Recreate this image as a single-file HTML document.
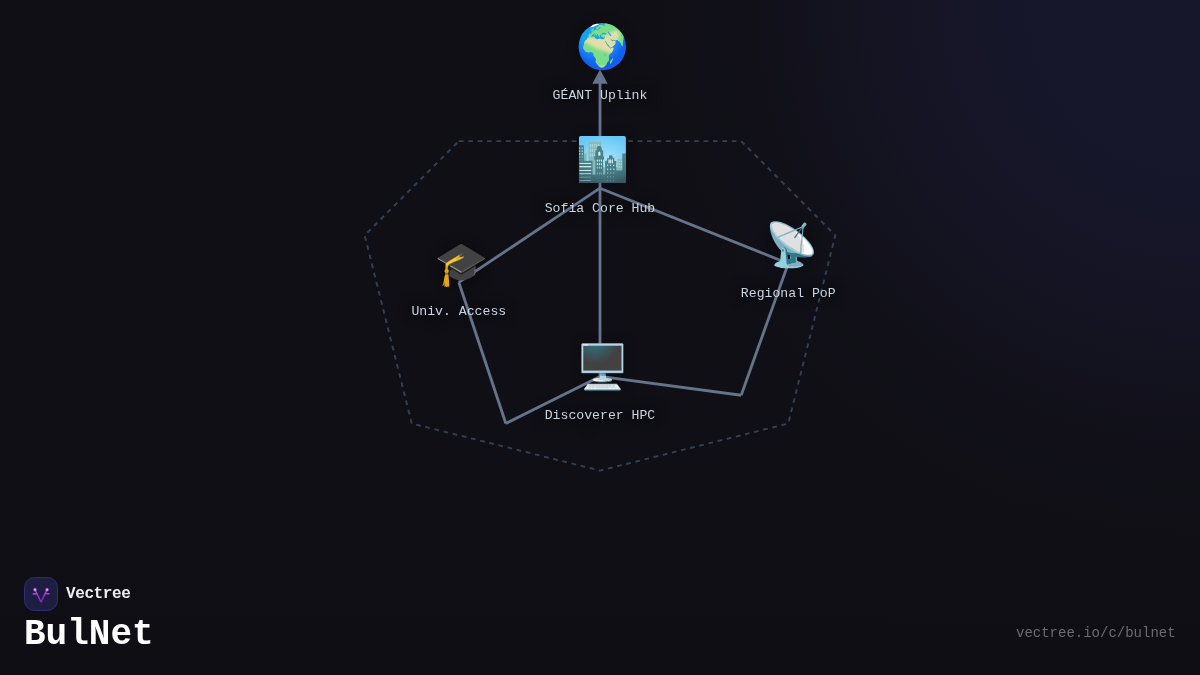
<!DOCTYPE html>
<html lang="en">
<head>
<meta charset="utf-8">
<title>BulNet</title>
<style>
  html, body { margin: 0; padding: 0; }
  body {
    width: 1200px; height: 675px; overflow: hidden;
    background: #100f15;
    font-family: "Liberation Mono", monospace;
  }
  #stage {
    position: relative; width: 1200px; height: 675px; overflow: hidden;
    background:
      radial-gradient(circle 720px at 100% 0%, rgba(23,23,44,0.999) 0.0%, rgba(23,23,44,0.997) 5.6%, rgba(23,23,44,0.992) 11.1%, rgba(23,23,44,0.979) 16.7%, rgba(23,23,44,0.954) 22.2%, rgba(23,23,44,0.908) 27.8%, rgba(23,23,44,0.835) 33.3%, rgba(23,23,44,0.732) 38.9%, rgba(23,23,44,0.605) 44.4%, rgba(23,23,44,0.465) 50.0%, rgba(23,23,44,0.329) 55.6%, rgba(23,23,44,0.213) 61.1%, rgba(23,23,44,0.125) 66.7%, rgba(23,23,44,0.066) 72.2%, rgba(23,23,44,0.032) 77.8%, rgba(23,23,44,0.013) 83.3%, rgba(23,23,44,0.005) 88.9%, rgba(23,23,44,0.002) 94.4%, rgba(23,23,44,0.000) 100.0%),
      linear-gradient(180deg, #100f15 0%, #100f15 80%, #0f0e14 94%, #0f0e14 100%);
  }
  #net { position: absolute; left: 0; top: 0; width: 1200px; height: 675px; will-change: transform; }
  #brand { position: absolute; left: 24px; top: 577px; height: 34px; display: flex; align-items: center; will-change: transform; }
  #logo svg { display:block; margin:-1px; }
  #logo {
    width: 34px; height: 34px; border-radius: 10.5px; background: #1e1e42;
    border: 1px solid #312e78; box-sizing: border-box; overflow: hidden;
  }
  #bname {
    margin-left: 8px; font-family: "Liberation Mono", monospace; font-weight: bold;
    font-size: 16px; color: #ececf0; letter-spacing: -0.4px;
  }
  #title {
    position: absolute; left: 24px; top: 613px; will-change: transform;
    font-family: "Liberation Mono", monospace; font-weight: bold; font-size: 36px; line-height: 44px;
    color: #ffffff;
  }
  #url {
    position: absolute; right: 24px; top: 624px; will-change: transform;
    font-family: "Liberation Mono", monospace; font-size: 14px; line-height: 18px; color: #6b6b73;
  }
</style>
</head>
<body>
<div id="stage">
  <svg id="net" viewBox="0 0 1200 675">
    <defs>
      <filter id="halo" x="-30%" y="-30%" width="160%" height="160%" color-interpolation-filters="sRGB"><feGaussianBlur stdDeviation="5"/></filter>
    </defs>
    <g id="diagram" transform="translate(600 -0.05) scale(1.0013) translate(-600 0)">
    <!-- soft dark halo beneath everything -->
    <g filter="url(#halo)" fill="#0b0b10" stroke="#0b0b10" stroke-width="8" opacity="0.68"
       font-family="Liberation Mono, monospace" font-size="13.16" text-anchor="middle">
      <text x="600" y="99">GÉANT Uplink</text>
      <text x="600" y="212">Sofia Core Hub</text>
      <text x="459" y="315">Univ. Access</text>
      <text x="788" y="297">Regional PoP</text>
      <text x="600" y="419">Discoverer HPC</text>
      <circle cx="602.5" cy="46.5" r="22"/>
      <rect x="581" y="138" width="43" height="43"/>
      <circle cx="461" cy="265" r="20"/>
      <circle cx="791" cy="245" r="20"/>
      <rect x="583" y="345" width="38" height="42"/>
    </g>
    <polygon points="459,141 741,141 835,235 788,423 600,470 412,423 365,235"
             fill="none" stroke="#334155" stroke-width="1.88" stroke-dasharray="4.7 4.7"/>
    <g fill="none" stroke="#64748b" stroke-width="2.82" stroke-linecap="butt">
      <path d="M600,188 L600,83"/>
      <path d="M600,188 L459,282"/>
      <path d="M459,282 L506,423"/>
      <path d="M506,423 L600,376"/>
      <path d="M600,188 L788,263.2"/>
      <path d="M788,263.2 L741,394.8"/>
      <path d="M741,394.8 L600,376"/>
      <path d="M600,188 L600,376"/>
    </g>
    <polygon points="600,69.5 607.7,83.6 592.3,83.6" fill="#64748b"/>
    <!-- ICONS -->
    <g id="icons">
<svg x="575.8" y="21.6" width="53.3" height="50.17" viewBox="0 0 136 128">
<defs><radialGradient id="gOcean" gradientUnits="userSpaceOnUse" cx="57.6" cy="31.4" r="80" gradientTransform="translate(0 31.4) scale(1 1.05) translate(0 -31.4)">
<stop offset=".5" stop-color="#17a1f3"/><stop offset=".55" stop-color="#1997f5"/><stop offset=".6" stop-color="#1a8af8"/><stop offset=".65" stop-color="#1b83f9"/><stop offset=".7" stop-color="#1a7df9"/><stop offset=".75" stop-color="#1876f7"/><stop offset=".8" stop-color="#166ff4"/><stop offset=".85" stop-color="#1468f1"/><stop offset=".9" stop-color="#1264ef"/><stop offset=".96" stop-color="#1160ee"/>
</radialGradient>
<clipPath id="cLand"><path clip-rule="evenodd" d="M94.5 93.8l-1 .1-1.9 2.6-3 2.4-1 1.3-.4 6.3 1 1.3 1.4-.7 2-3.6 .5-1.9 2.7-5.2 .1-2.2zM45.8 17.4l-.9-.5-.9 .2-.8 1-.2 1.3-3.4 1.5-1.1 1.3 .1 .8 .6 .6 1.4 .3 3.9-.3 1.3-2zM77 5l-1.5 0-2.4 2.1 0 .8 1.5 .7 .5 .8-2.9 1.4-1.3 0-3.7-2.6-1.3-.4-2.4 .2-3.5 1.6-4.9 3.9-3.2 1.7-1 1.7 .2 1.2 .8 .5 1.7-.1 1.8 1.6 1.1-.2 2.1-2 .8-2.7 1.8-1.8 .4 .8-.6 1 .1 .8 3.3-.1 .2 .7-.4 .4-3 .6-5.4 4.3-1 0-2.3-1.7-1.1 0-1.8 1.4-2 .8-2.7 2.5-2.8 .2-1.7 1-.9 1.3 1 1.7-.5 1.1-1.1 .6-3.4-.6-1.1 1-2.3 4.9 .3 1.4 1.4 2-2.4 .9-1.4 1.1-2.2 4.6-3.6 2.9-1.2 2.2-1.9 2.2-.3 4.2-2 6.5 0 3.8 .4 2 6.9 7.7 1.1 .4 2.2-.6 2.6 1.5 1.4 0 4.6-1.9 2.8 2.2 2.4 .3 1.6 1 .1 4.7 1.2 3.2 3.7 4 1.7 4.7-.1 1.3-1.2 2 0 2.5 .7 1.3 6.7 8.2 3.6 3.2 2.6 1.3 5.3 .1 1.8-.4 2.6-2 1.5-2 3.5-3.2 1.5-5.2 4.5-4.7 .3-4.6-.4-1.4 0-4.4 .6-3 2.1-3.3 3.7-3.6 3-3.8 1-1.8 1.1-3.6 0-3.4-.5-.6-1.4 .1-5.4 2.4-1.5-.1-1.7-2.8-3.3-2.4-1.3-2.2-1.9-1.8-1-3.4-2-2.2-2.1-4.6 .2-.8 .5 0 1.5 1.7 1.4 2.3 1.5 1.4 2.3 4 3.6 3.4 1.3 3.1 1.4 1.8 1.4 0 5-2.4 3.5-3.5 1.7-1 1.3-1.8 1-4.2-.5-2-3.5-2.6-1 .1-2.2 2.1-1.2-.4-1.8-1.4-1.3-2.3-1.5-1.1-.4-.9 .6-.6 .9 .2 3.6 2.9 1.1 0 2-1.1 1 .1 1.2 1.2 1.2 .6 2.3 0 2.7-1 1.6 .2 4.4 4.6 2.3 1.2 4.6 9.4 .6 .6 1.1 0 .8-1.6-.1-7.2 1.2-6.6 .9-8.9-3.4-6.5-3.8-5.6-8.2-8.3-8.6-6-7.9-3.9-6.3-2zM76.1 83.8l.4 .3-.3 .9-.4-1-1.3 0 1.4 1.1 .3-.1-.4 1-1.8-1.2-.4 1.2 .5 .5-.3 .1-.6-.6 .6-1.6 1-.9zM36.6 39.6l.5-.6 1 .2-.5 .7zM90.9 34.6l.2 1.4-1 .8zM85.4 34.1l2.6 2.4-1.1-.4zM86.5 31.9l2.3 2.2 .3 1.1-1.9-1zM83.6 30.5l1.4 1 0 1.5zM38.6 38.4l1.8-2.5 3.7-3.5 2-.5 1.9-1.3 .9 .9-1.8 1.6-.2 2 .5 .8 .7 0 .7-.7 .1-1.7 .6-.7 3.7 3.3 1.3 .5 .5-.6 0-1.4-2.4-3.4-.1-.8 .5-.3 2.2 1.4 1.2 1.3 .7 2.2 2.4 4 1 0 .9-.9-.3-3.3 .7-.7 2.2-.1 .4 .4-.2 2 1.6 1.7 1.3 .8 2.7-.3 .6 .6 .2 1.4 .8 .3 .6-.5-.4-2 1.6-.6 .6 .6 .2 1.6-.5 3.1-3.1 2-3.3-.1-4-1-4.9-.5-1.8 1.7-1.3 .2-4.1-2.4-2-.6-.6-.8 .2-2.2-1.6-1.3-5.5 0-1.7 .8-.9 0zM78.1 31.2l-.1 .7-1.9 .9-2.7 0-1.6-.8-1.2 0-4.4 1.5-1-.3 .7-2.4 2.3-2 3 .2 1.7-.8 1.1 0zM83.6 25.4l1.2 1-1.9-.4-.7 .5-.4 1.4 .4 1.9-.8-1.2-.2-1 1.6-2z"/></clipPath>
<filter id="fSand" x="-20%" y="-20%" width="140%" height="140%" color-interpolation-filters="sRGB"><feGaussianBlur stdDeviation="4.7"/></filter></defs>
<ellipse cx="67.5" cy="63.9" rx="60.4" ry="60" fill="url(#gOcean)"/>
<path fill="#7add8a" fill-rule="evenodd" d="M94.5 93.8l-1 .1-1.9 2.6-3 2.4-1 1.3-.4 6.3 1 1.3 1.4-.7 2-3.6 .5-1.9 2.7-5.2 .1-2.2zM45.8 17.4l-.9-.5-.9 .2-.8 1-.2 1.3-3.4 1.5-1.1 1.3 .1 .8 .6 .6 1.4 .3 3.9-.3 1.3-2zM77 5l-1.5 0-2.4 2.1 0 .8 1.5 .7 .5 .8-2.9 1.4-1.3 0-3.7-2.6-1.3-.4-2.4 .2-3.5 1.6-4.9 3.9-3.2 1.7-1 1.7 .2 1.2 .8 .5 1.7-.1 1.8 1.6 1.1-.2 2.1-2 .8-2.7 1.8-1.8 .4 .8-.6 1 .1 .8 3.3-.1 .2 .7-.4 .4-3 .6-5.4 4.3-1 0-2.3-1.7-1.1 0-1.8 1.4-2 .8-2.7 2.5-2.8 .2-1.7 1-.9 1.3 1 1.7-.5 1.1-1.1 .6-3.4-.6-1.1 1-2.3 4.9 .3 1.4 1.4 2-2.4 .9-1.4 1.1-2.2 4.6-3.6 2.9-1.2 2.2-1.9 2.2-.3 4.2-2 6.5 0 3.8 .4 2 6.9 7.7 1.1 .4 2.2-.6 2.6 1.5 1.4 0 4.6-1.9 2.8 2.2 2.4 .3 1.6 1 .1 4.7 1.2 3.2 3.7 4 1.7 4.7-.1 1.3-1.2 2 0 2.5 .7 1.3 6.7 8.2 3.6 3.2 2.6 1.3 5.3 .1 1.8-.4 2.6-2 1.5-2 3.5-3.2 1.5-5.2 4.5-4.7 .3-4.6-.4-1.4 0-4.4 .6-3 2.1-3.3 3.7-3.6 3-3.8 1-1.8 1.1-3.6 0-3.4-.5-.6-1.4 .1-5.4 2.4-1.5-.1-1.7-2.8-3.3-2.4-1.3-2.2-1.9-1.8-1-3.4-2-2.2-2.1-4.6 .2-.8 .5 0 1.5 1.7 1.4 2.3 1.5 1.4 2.3 4 3.6 3.4 1.3 3.1 1.4 1.8 1.4 0 5-2.4 3.5-3.5 1.7-1 1.3-1.8 1-4.2-.5-2-3.5-2.6-1 .1-2.2 2.1-1.2-.4-1.8-1.4-1.3-2.3-1.5-1.1-.4-.9 .6-.6 .9 .2 3.6 2.9 1.1 0 2-1.1 1 .1 1.2 1.2 1.2 .6 2.3 0 2.7-1 1.6 .2 4.4 4.6 2.3 1.2 4.6 9.4 .6 .6 1.1 0 .8-1.6-.1-7.2 1.2-6.6 .9-8.9-3.4-6.5-3.8-5.6-8.2-8.3-8.6-6-7.9-3.9-6.3-2zM76.1 83.8l.4 .3-.3 .9-.4-1-1.3 0 1.4 1.1 .3-.1-.4 1-1.8-1.2-.4 1.2 .5 .5-.3 .1-.6-.6 .6-1.6 1-.9zM36.6 39.6l.5-.6 1 .2-.5 .7zM90.9 34.6l.2 1.4-1 .8zM85.4 34.1l2.6 2.4-1.1-.4zM86.5 31.9l2.3 2.2 .3 1.1-1.9-1zM83.6 30.5l1.4 1 0 1.5zM38.6 38.4l1.8-2.5 3.7-3.5 2-.5 1.9-1.3 .9 .9-1.8 1.6-.2 2 .5 .8 .7 0 .7-.7 .1-1.7 .6-.7 3.7 3.3 1.3 .5 .5-.6 0-1.4-2.4-3.4-.1-.8 .5-.3 2.2 1.4 1.2 1.3 .7 2.2 2.4 4 1 0 .9-.9-.3-3.3 .7-.7 2.2-.1 .4 .4-.2 2 1.6 1.7 1.3 .8 2.7-.3 .6 .6 .2 1.4 .8 .3 .6-.5-.4-2 1.6-.6 .6 .6 .2 1.6-.5 3.1-3.1 2-3.3-.1-4-1-4.9-.5-1.8 1.7-1.3 .2-4.1-2.4-2-.6-.6-.8 .2-2.2-1.6-1.3-5.5 0-1.7 .8-.9 0zM78.1 31.2l-.1 .7-1.9 .9-2.7 0-1.6-.8-1.2 0-4.4 1.5-1-.3 .7-2.4 2.3-2 3 .2 1.7-.8 1.1 0zM83.6 25.4l1.2 1-1.9-.4-.7 .5-.4 1.4 .4 1.9-.8-1.2-.2-1 1.6-2z"/>
<g clip-path="url(#cLand)"><g filter="url(#fSand)" fill="#e3dda6"><path d="M0 41L40 41 70 39 85 29.5 100 22 108 24 110.5 30 109.5 40 106 50 104 62 105 88 90 81.5 70 74.5 52 68.5 40 62.5 31 56.5 20 51 0 46Z"/><ellipse cx="67" cy="124" rx="17" ry="10.5"/></g></g>
<path fill="#4b9ced" fill-rule="evenodd" d="M74 84.8l-.4 .4 .2 1 1.4 .2 .3-.8zM74.5 84l1.4 1.1 .2-.2-.3-.9zM82.6 26.1l-.8 1.8 .2 1 3 2.6 .6 2.7 2.5 2.4 1.9 0 .6-.8-.1-1.7-3.4-3.6-2.3-1.9-.2-2.1-.7-.5z"/>
<path fill="#ffffff" fill-rule="evenodd" d="M58.8 6.9l-1.7-.9-4.6-.2-8.5 2.3-2.1 1-4 4.3-.5 1.5 1.1 .5 7.5-2.5 5.6-2.8 7-2.3z"/>
</svg>
<svg x="575.75" y="134.2" width="53.3" height="50.17" viewBox="0 0 136 128">
<defs><radialGradient id="gSky" gradientUnits="userSpaceOnUse" cx="69.2" cy="98" r="95"><stop offset=".29" stop-color="#ade4fe"/><stop offset="1" stop-color="#67c9f6"/></radialGradient>
<radialGradient id="gNear" gradientUnits="userSpaceOnUse" cx="68.4" cy="48.1" r="111" gradientTransform="translate(0 48.1) scale(1 .744) translate(0 -48.1)"><stop offset=".47" stop-color="#488187"/><stop offset=".57" stop-color="#477d84"/><stop offset=".62" stop-color="#467a81"/><stop offset=".68" stop-color="#44767d"/><stop offset=".73" stop-color="#42727a"/><stop offset=".78" stop-color="#416d76"/><stop offset=".84" stop-color="#3f6871"/><stop offset=".89" stop-color="#3d616c"/><stop offset=".95" stop-color="#3a5965"/><stop offset="1" stop-color="#395561"/></radialGradient><clipPath id="cCity"><rect x="8" y="4" width="120" height="120" rx="4.8"/></clipPath></defs>
<g clip-path="url(#cCity)"><rect x="8" y="4" width="120" height="120" fill="url(#gSky)"/><rect x="8" y="106" width="120" height="18" fill="url(#gNear)"/>
<path fill="#88babc" fill-rule="evenodd" d="M81.2 116.2l-1.3 .9-.3 1.1 1.2 1.6 .8 .1 1.4-1 .2-1.3-.8-1.1zM97.1 116l-1.2 .2-.7 .9 .2 2.3 1.4 1 .8-.3 1.2-1.6-.3-1.6zM89.1 116l-1.1 .1-.8 1 0 2 1.6 1.3 .8-.3 1.2-1.6-.3-1.6zM9 116.6l.5 1.9 1.3 .7 27.4-.2 2.2-1.9-.3-1.1-1.2-.8-28.4 0zM9 108.6l.4 1.4 1.2 .8 27.6 0 1.6-.4 .7-1-.3-1.4-1.7-.9-27.7 0zM80.5 106.4l-1 1 0 2.1 1 1 1.9 0 1-1 0-2.1-1-1zM96.8 106.1l-1.6 1 .2 2.8 1.7 .9 1.7-1.2 0-2.4-.9-1zM88.6 106.1l-1.5 1.3 0 2.1 .7 .9 1.6 .4 1.4-1.2 0-2.4-.9-1zM14.4 101.2l1 1.3 1-.5 1.1 .5 1-.7-1-1.3-1 .5-1.1-.5zM9.9 98.2l-1.4 1.4 .3 1.6 1 .7 1.1-.8 0-2.1zM40.8 99.5l-1.9-1.5-1 .8 .7 1.2-.4 .6-17.7-.1-1 1.3 1 .7 17.9 .1 1.8-.8zM65 97.2l-1.4 1-.1 2.8 .7 1.4 1.7 .2 1.3-1 .2-2.7-.8-1.4zM59.8 97l-1.3 .8-.3 3.8 1.8 1.4 1.8-1.5 0-3.1-.9-1.2zM54.6 97l-1.5 1.4 0 3 1 1.2 1.1 .2 1.6-1.4 0-3-1-1.3zM79.9 96.4l-.8 1.1 .3 2.5 1.4 .9 2.1-.3 .7-.8-.2-3-1-.7zM96.9 95.9l-1.8 1.1-.1 1.1 1 .8-.5 1.5 1.9 .6 1.7-.9 .4-2.6-1.1-1.3zM97 98.1l.1 .8-.6 .1zM88.9 95.9l-1.8 1.1-.1 1.2 .9 .8-.4 1.4 1.9 .6 1.7-.9 .4-2.6-.9-1.1zM89 98.2l0 .9-.5-.2zM53.1 86.1l.1 1.4 1.7 1 2-1.5-.1-.9-.9-.5zM69.8 83.5l-.7 .7 0 17.3 .9 1.6 3.1 .3 1.3-.5 1-1.8-.2-17-.4-.6-1.3 .5-3.1 0zM39.5 82.5l-1.3 .9 1 1.2 1.3-.8zM65 81.5l-1.6 1.4-.3 3.3 1.1 1.9 1.7 .3 1.7-1.6 .2-3-1.2-2zM59.8 81.4l-1.3 .7-.6 2.1 1 .8-.9 .8 .5 2 1.6 .7 2.1-1.7 .2-2.9-.9-1.9zM59 85l1-.4-.1 .9zM53 82.9l.1 .9 .9 .4 .9-.4 1.5 .3 .5-.6-.3-1.1-1.6-1zM16.2 63l-1.2 1.1 0 2.5 1.5 1 1.4-1 0-2.4-.8-1.1zM10.2 63l-1.2 1.1 0 2.4 1.5 1.1 1.4-1.1 0-2.4zM118.8 61.4l-1 .8-9.8-.2-1.9 1.2 0 19.9-.6 .9-1.9 0-.5-.6-.5 .6-.1 7.4 1 1.1 14.6 .1 1.3-1-.2-29.6zM116 81.8l1.1 .1-.1 2.5-1.1-.3zM110.4 81.8l1.4 .2-.2 2.2-1.5-.1zM110.2 74.6l1.6 .2-.3 2.3-1.4-.2zM117 74.5l.2 2.4-1.2 .2-.1-2.3zM110.2 67.6l1.6 .2-.3 2.3-1.4-.2zM117 67.5l.1 2.5-1.1 .1-.1-2.3zM16.1 54.9l-1.6 1.6 .1 3 2 1.1 1.6-1.1 .2-3-1.2-1.5zM10.2 54.9l-1.6 1.3 0 3.3 2 1.1 1.6-1.2 .2-2.9-1-1.4zM21.1 48.1l-.5 .7 0 17.8 1.9 1.6 5.9-.1 .4-.3-.9-.7 .2-17.5-.7-.6-5.8 0zM63 18.8l-29.6 .1-.8 .7 0 46.4-1.1 1.8-.9 .1 1.3 .9 1.9-.7 8.4 .3 0 34 1.3 1 5.5 .1 1.6-1.3 .2-38-.9-1-2.3-.2 .2-5.5 2.1-.7 .9-1-.4-12.8 .5-1.4 2 0 .9-1 1-3 0-2.4 2-4.8 7.2 0 0-11zM48.6 49.8l.2 5.1-.9 .2-.3-5.2zM42 49.8l1.1 .1-.2 6.1-1-.5zM37 49.8l1.1 .1-.2 6.1-1-.5zM47.8 37.8l1 .2-.3 6-.9-.1zM42 37.8l1.1 .1-.2 6.1-1-.5zM37 37.8l1.1 .1-.2 6.1-1-.5zM58 25.8l1.1 .1-.2 2.7-1-.5zM52.8 25.8l1 .2 .2 4.4-.6 1.6-.8-.1zM47.8 25.8l1 .2 0 5.1-.6 .9-.6-.1zM42 25.8l1.1 .1-.2 6.1-1-.5zM37 25.8l1.1 .1-.2 6.1-1-.5z"/>
<path fill="#79abaf" fill-rule="evenodd" d="M81 115.9l-1.5 1.2 0 2.1 .9 1 1.4 .3 1.6-1.3 0-2.1-.8-1zM81.2 117.1l1.2 .8-.8 1.1-1.1-1zM96.8 115.8l-1.4 .8-.3 2 .3 1 1.7 1 1.7-1.1 .3-2.1-.9-1.3zM96.6 116.9l1.3 .7-1 1.9-.8-.7zM88.8 115.8l-1.3 .7-.4 2.1 .3 .9 1.7 1.1 1.7-1 .3-2.2-1-1.3zM89.1 116.9l.8 1.3-1.1 1.3-.7-.6 0-1.5zM8.8 116.4l.4 2.2 2.2 .9 27.4 0 1.7-1.6-.3-1.8-1.2-.9-1 .9 1.5 .8-1.3 1.2-27.4 .3-.9-1.5 1.3-1.1-1.1-.6zM8.8 108.5l.7 1.9 1.7 .4 27.9 0 1.5-1.2-.2-1.7-1.3-.8-27.9 0-1.7 .4zM9.9 108.9l.9-.9 6.8 .1 .6 .7 1-.7 2.4 0 .6 .7 .9-.7 1.7 0 .4 .7 .9-.7 1.5 0 .6 .7 2.4-.7 .9 .7 .7-.7 6.3-.1 1.1 1.1-1.4 .8-27.6 0zM98.1 106.2l-1.1 0-1.9 1.7 0 1.7 1 1.2 1.8 0 1.2-1.3 0-2.1zM96.8 107l1.1 .5 0 1.9-.8 .5-1-.5-.1-1.8zM90.1 106.2l-1.1 0-2 1.6 .1 1.8 1 1.2 1.9-.2 1.1-1.1 0-2.1zM88.6 107l1.3 .5-.5 2.4-1.4-.7 0-1.6zM80.4 106.1l-1.2 1.3 .2 2.5 1.4 .9 2.1-.3 .7-.9-.2-2.7-.9-.8zM81 107.1l1.5 .5 0 1.6-.6 .6-1.5-.6 0-1.6zM40.9 100.4l-.4-1.5-1.1-.8-1 .8 0 1.9-23.3-.2-1 1.3 1.1 .9 23.6 .1 1.8-1.3zM39.5 100.5l0 .7-.9 .4zM10 98.1l-1.2 .9 .4 1.1-.4 1.3 1.3 1.1 1-.7-.7-1.7 .7-1.2zM9.9 99.1l-.1 1.9-.4-1.1zM65 96.8l-1.8 1.4 0 3.4 .9 1.3 1.9 .2 1.6-1.5 0-3.4-1-1.2zM65 98.1l1.4 .4 .1 2.3-.6 1-1.4-.4-.1-2.3zM59.6 96.6l-1.5 1.3 0 4.2 .8 .9 1.5 .2 1.8-1.6 0-3.4-1.1-1.3zM59.8 97.9l1.1 .7 0 2.6-.9 .9-.9-.7-.1-2.6zM54.6 96.6l-1.6 1.4 0 3.8 .9 1.1 1.3 .2 1.7-1.3 0-3.7-.9-1.2zM54.6 97.9l1.3 .7 0 2.5-.7 .8-1.2-.8 0-2.5zM83.1 96.5l-1.5 .6 .8 1.8-2-.1 .5 1 1.3-.2 .2-2.6 .5 .9-.5 2-1.6 .1-.7-1.2-.7 .3-.2 .8 1 1.1 1.9 .1 1.3-.9-.5-1.4 1-1.3zM98.5 96.1l-1.4 0-.5 .7 .9 2.1-1.7 .7-.2 .8 .8 .7 2-.2 .7-.9 .3-3zM97.9 97l.7 .8-.1 1.6-1 .6 .5-.6zM90 96l-1.4 .8 .9 1.2-.3 1.1-.8-1-1.4 .4-.1 1.1 .6 .8 2.3 .6 1.2-.8 .4-3.1zM89.9 97l.7 1-.1 1.4-.9 .6zM39.8 92.2l-1.6 .2-.3 1.4 1.7 .3 .6-.7zM10 89.9l-1.6 1.3 .1 1.7 1.3 1 1.1-.8-.5-1.2 .6-1.3zM99 88.9l-1 0-1.2 1.5 .3 1.4 1.4 0 .9-.8 .2-1.2zM91.5 89.5l-1.5-.6-.9 1.1-1.3-.1-.6 1.1 1.3 .9 2.3-.4zM80 86.5l-.9 1 .1 1 .9 .5-1 .9 .3 1.1 1.4 .8 2.3-.4 .7-1.5-1-.9 .8-.5 0-1.3-1.2-.8zM80.1 89l1.5-.6 1.2 .7-1.4 .9zM97.1 86.2l-1.5 .8 .6 1.2 1.2 0 .7-.7zM89.1 86.2l-1.5 .8 .6 1.2 1.2 0 .7-.7zM64.5 85.2l.3 1.6 1.6-.3-.2-1.4-.7 1.4zM64.8 83.1l-.2 1.8 .8-1.5 .8 1.5 .2-1.5zM40.2 82.2l-1 0-1.1 1 .4 1.4 1.4 0 .9-1.7zM64.8 81.5l-1.8 1.6 .5 1.9-.5 1.6 1 1.5 2.1 .3 1.7-1.4-.4-2 .5-1.9-1-1.3zM65 82.4l1.1 .1 .8 1.5-.1 2.5-.9 1-1.1-.1-.8-1.4 .1-2.5zM60.8 81.5l-2 .3-.9 1.2 0 3.8 1.7 1.7 1.9-.4 .9-1.1-.5-2.1 .5-2zM60.1 83.4l.8 1.5-.8 1.6zM59.8 82.2l1.3 .7 .4 1.2-.1 2.4-1.3 1.1-1-.7 1.3 .1 .6-.6 0-2.9-.6-.6-1.2 .2zM54.8 81.4l-1.9 1.4-.3 3.7 1 1.6 1.5 .4 1.1-.4 1-1.6-.4-1.5 .4-1.6-1-1.6zM56 86.6l-1 1-1-.6zM54.9 83.9l.6 1-.5 1.1-.6-1zM53.9 83.1l1.1-.9 1 1-1-.4zM117.4 80.9l.1 4.2 .6-1 0-2.3zM10.9 79.9l-2 .7-.8 1 .7 2.4 1.2 .8 1-.8-.6-2.1 1.5-.8zM91.5 79.5l-1.5-.6-1 1.2-1.2-.2-.6 1.1 1.2 .9 2.2-.3 .9-1zM53.8 78.1l.3 1.4 1.7 0 .4-.6-.4-1.1zM58.8 78.1l.3 1.4 1.7 0 .4-.6-.7-1.3zM80 76.5l-1.1 1.9 .5 2.6 1.2 .8 2.4-.3 1-2.1-.4-2.2-1.2-.8zM81.4 78.4l.5 1.1-.4 .5-.5-.2zM96.1 76.4l-.3 1.4 2.2 1.1-1.1 2.1 .5 .6 1.1 0 1-1-.6-1.8 .5-1.2-1.6-1.2zM87.8 76.8l.4 1.4 1.3 0 .7-.7-.4-1.1zM117.5 73.8l-.1 4.2 .7-.9zM64 72.5l-1 1.6 .5 1.8-.4 2.5 .9 1 2.9 0 1-1.6-.5-1.8 .4-2.5-.9-1zM65.2 74.4l1.2 1.5-.8 1.6-1.1-1.5zM9.4 72.4l-1.2 1 .3 1.6 .9 .5 1-.7 0-1.7zM58.8 72.8l.4 1.4 1.3 0 .7-.7-.4-1.1zM53.8 72.8l.3 1.3 1.7 0 .4-.6-.4-1.1zM82.5 72.9l.3 1.1 1.1 .8 1-.8 1.6 .6 .9-1.1-.3-1.1-.9-.5-1 .6-.2 1-.9-1.5-1 0zM95.9 72.4l-1.5-.5-.8 1.2-1.6 .4 0 1 2.5 .4 1.4-1.4zM53.8 69.1l.3 1.4 1.7 0 .4-.6-.4-1.1zM58.8 69.1l.3 1.4 1.7 0 .4-.6-.7-1.3zM117.5 66.8l-.1 4.2 .7-1.2zM80.4 66.5l-1.4 1.3-3.6-.2-.8 .8 .2 14.5-.6 1-.8 .2 1 .3 .1 14.2 1-.7 .5-28.8 4.2-.7 .7-.8zM64 63.5l-1 1.6 .5 1.8-.4 2.5 .9 1 2.9 0 1-1.6-.5-1.8 .4-2.5-.9-1zM65.2 65.4l1.2 1.5-.8 1.6-1.1-1.5zM58.8 63.8l.4 1.4 1.3 0 .7-.7-.4-1.1zM53.8 63.8l.3 1.3 1.7 0 .4-.6-.4-1.1zM82.5 64.4l.3 1.1 .8 .5 1-.6 .3-1 .9 1.5 1 0 .6-.9-.3-1.1-1.1-.8-1 .8-1.6-.7zM92 63.4l0 1 1.6 .4 .8 1.2 1.5-.5 0-1.1-1.4-1.4zM16.1 62.4l-1.3 1.2-.2 2.9 1 1.3 1.2 .1 1.4-1.4-.1-2.9-.9-1.1zM16.2 63.9l.8 .6 0 1.9-.5 .4-.6-.4zM10.1 62.4l-1.3 1.1-.2 2.7 .9 1.4 1.1 .3 1.6-1.4-.1-2.9-.9-1.1zM10.2 63.9l.8 .5-.5 2.4-.6-.6zM96.5 60l.5 7.5 .8 1.1 1.3 .2 .5-.7-1.5-.6 .1-7zM86 58.2l-1-.3 .1 1.7-.7 1.2-3.6-.2-.6 .8 .9 .5 4.1-.3 .8-1zM16.2 56.1l-.4 2.3 .3 .8 .7 0 .3-2.4zM10.1 56.1l-.3 2.3 .3 .8 .7 0 .3-2.4zM16 54.9l-1.5 1.2 0 3.3 .9 1.1 1.2 .3 1.8-1.4 0-3.3-.8-1zM16.1 55.8l1.4 1-.1 2.4-.8 .6-1.1-.6-.1-2.4zM10 54.9l-1.6 1.5 .1 2.8 .9 1.3 1.2 .3 1.9-1.6-.1-3.1-.8-1zM10.2 55.8l1.3 1-.1 2.3-.8 .7-1.1-.6 0-2.7zM85.1 54l-.1 1 6.9-.4 .5 .4 .1 4.9 1.5 1.2 2.1-.5 .1-.6-1.7 .1-.7-.6-.4-5.5zM69.8 53.6l-1 .8 0 1.5 .7 1 1.5 .3 0 5.8-.4 .6-1.2-.2-.8 1.2 .4 37.4 1.1 1.5 3.8 0 1.6-1.4-.5-2.5-.5-.1-.1 1.9-1.3 1.1-2.6-.1-.5-1.2 0-16.7 1.1-.5-1.3-.5 0-19.1 2.4-1 0-6.9-2.3-.9zM62.9 51.8l-1 1.2 1.1 1 .9-.5 .1-.9zM128 49l-8.4 0-1 .8-.1 41.6-15 0 0-7.2 1-.2-1.4-.5 .1-14.7-.7-.6-.5 .7 .2 22.7 .8 .9 14.8 .4 1.6-.9 .4-41.8 8.2-.2zM14.5 48l.4 2 1.6-.5 1 .6 1-.7 0-1.2-.9-1-1.8-.1zM11.6 47.2l-2.4 0-.8 .9-.3 3.3 .8 1.1 1.3-.4 .3-2.6 1 .6 .9-.5 .1-1.4zM62.2 43.9l-.4-.7-2.6-.1-2 1.4-.1 .9 1.5 .6 1.2-1 2 0zM68.4 41l.5 1.8 .9 .4 0-1.8zM16.4 39.9l-2.2 1.6 1 1.3-.8 .7 0 1.1 .8 1 1.9 .2 1.4-1.2 0-1.1-.9-.7 1-1.3zM15.4 42.8l1-.9 1.1 .9-1 .6zM10.4 39.9l-2.4 1.3 .1 2.9 1.1 1.5 1.9 .2 1.4-1.2 0-1.1-.9-.7 1-1.3zM10.5 41.9l1 .9-1 .6zM9.4 33.1l-1.3 1.3 0 2.1 1.3 1.3 1-.8 0-3.1zM60 28.4l-2.9 .4 2 .7zM7.9 28l0 1 12.2 .2 .3 38.2 1.4 1.1 20.3 .3-.1 33.2 1.6 1.6 6.5-.4 .8-1.1 0-37.7-2.8-1.5 0-5.1 2.4-1.6 .4-1.6 .2-12.8 2-.3 .8-.7 3-10.2 5.7-.1 2.9 8.9 .7 1.1 .8 0-3-10.9-.9-.5-2.3 0-2 .8-2.8-.5-2.1 5.6-.9 5.1 .4-2.7-.5-.5-.8 2.7-.6 .3 1 .9-2.3 .1-.6 1.6 0-2.4-.8 1.4 0 3.4 .8-1.3 .3 5.4-.3 .4-.8-.5 .2 6-2.1 .9 1.2 .3-1.3 1.5 0 5.6 .4 .8 2.7 .5-.1 37.5-.8 .6-5.5-.1-.5-34.7-.8-.6-13.7 .6-.5-.6-5.5 .2-.9-.8-.4-37.8-.8-.8zM49.6 50.5l.3 5-1.1 .5 .8-.8z"/>
<path fill="url(#gNear)" fill-rule="evenodd" d="M59.5 82.9l-.5 3 .8 1.1zM49.2 48.9l0 6.2-1.3 .9 1.7-.8zM7.9 28.1l-.1 89.1 .3 2.4 2.3 3 1.8 1.2 2.9 .6 105.7 0 3.1-.8 3-2.5 1.2-3.9-.1-68.1-8.5 .1-.6 .8-.1 41.2-1 .8-14-.1-.7-.5-.3-13.3 .4-8.7 0 13 0-13.6-1.2-.9-3.9-.1-.3-7.2 .4 .5 0 5.1 0-5.7-4.6-.6 .8 .1-.6-.5-.4-5.5 .1 5.6-.3-5.1-.4-.7-7.3-.2-.5 .9-.1 6.3-4.7 .1-.4 6.3-1.2 .8-3.1-.1 .6-.3-.7 0-.8 .8 0 .8 .3-.6 .2 12.8-1 2.5 .3 .3 .6-.7-.4 18.4-.7 .7-3.3 .2-.7-1 0-17-.3-3 .3 .6 .1-11.2-.1-4.2 0 3.9-.5-.1 .1-5.9 .7-1 2-.5 0-6.9-2.6-.9 .3-13.2-.7-1.3-1.7-.1-.7-.9-2-7.3-.8-.8 0-2.4-.1 1.3-.8-1.3-6.9 .3-2.2 6-.9 4.3-.5 .3 .5-3.6-1 3.2-.6 0 1 .7-2.4 .4-.2 14.3-2.3 1.1-.4 .9 0 5.7 2.8 1.4 0 37.3-.9 .9-5.5 0-.7-1 .1-33.3-.9-.9-14.2 .3-6.5-.5-.5-38.8zM81 116.8l1.5 .6 0 1.6-.7 .6-1.4-.6 0-1.6zM96.8 116.6l1.4 1-.2 1.4-.9 .8-1.1-1.4zM88.8 116.6l1.4 1-.2 1.5-.9 .7-1.1-1.4zM9.6 116.6l.5-.5 28.9 0 .6 1.5-.8 1-27.4 0-1.4-.5zM9.6 108.8l1.2-.8 28.3 0 .7 1.4-.7 .5-28.5 0zM96.8 107l1.4 .6 0 1.6-.8 .8-1.4-.6 0-1.8zM88.6 107l1.6 .6 0 1.6-1.1 .8-1.1-.6-.1-1.4zM80.9 106.9l1.1 0 .8 .7 0 1.8-.7 .5-2-.5 0-1.8zM39 100.9l-28.1 .1-.9-.9 29-.1zM9.8 99.1l.2 2.4-.6-1.4zM40 100.6l-1.2 1.4-19.8-.4 19.5-.1 1-1-.4-1.5zM96.9 97.8l1.1 .2-.2 1.4-.9-.2zM88.9 97.8l1.1 .2-.6 1.5-.6-.1zM81 97.8l1 .1-.2 1.6-1-.4zM65 97.6l1.8 .9 0 2.9-.8 .8-1.1 0-.8-.8 0-2.9zM59.6 97.5l1.8 1 0 2.9-1 1-1.4-.5 0-3.8zM54.6 97.5l1.4 .9 0 3.1-.8 .7-1.3-.7 0-3.3zM82.4 97l.6 .8-.2 1.7-.7 .7-1.3 0-.7-.6-.1-1.8 .6-.6-.1 2.3 1.5 .3 .5-.6zM98 96.9l.6 .9-.1 1.6-1.6 1-.4-.5 1.5-.5 0-1.9-.6-.5zM89.5 96.9l1.1 .9-.1 1.6-.7 .7-.7-.1 .9-.6zM9.8 91.9l1.6-.5 27.7 .1-.3 1.1-27.4-.1zM98.5 89.6l.1 .9-1 .5zM90.5 89.6l.1 .8-.6 .4zM96.9 87.8l1.1 .3-.1 2-1.1-.1zM88.9 87.8l1.1 .2-.1 2.1-1.1-.1zM81 87.8l1.1 .2-.3 2.2-1.2-.6zM64.8 82.4l1.3 0 .9 1 0 3-.9 1.1-1.3 0-.9-1.1 0-3zM59.8 82.2l1.7 .9 0 3.7-1.4 .8-1.1-.5-.2-3.9zM54.8 82.2l1 .3 .6 1.1-.3 .6-.6-1.2 0 3.9 .6-1.3 .3 .6-1.3 1.4-1-.2-.6-1.2 .3-.6 .6 1.3 0-3.9-.6 1.2-.3-.6zM9.6 82l29.4-.2 .2 1.1-29.1 .1zM98.5 79.6l.1 .8-.7 .5zM90.5 79.6l.1 .8-.8 .5zM96.9 77.8l1.2 .4-.1 1.9-1.2-.1zM88.9 77.8l1.1 .2 0 2.1-1.2-.1zM80.9 77.8l1.2 .1-.1 2.3-1.4-.3zM66.8 77.5l.1 .6-.9 .5zM64 77.6l1 .9-.5 .1zM82 77.2l.9 .6 0 1.6zM80.9 77.2l-.9 2.2 0-1.6zM64.9 73.8l1.2 .1-.1 4.2-1.2-.1zM59.9 73.8l1.2 .6-.3 3.7-1-.1zM54.4 73.8l1.4 .3-.3 4-1.4-.3zM65.9 73.4l.5-.2 .5 1zM64.9 73.2l-.8 1.2-.1-.6zM9.6 73.6l29.4-.5 .1 1.5-28.7 0zM66.8 68.5l.1 .6-.9 .5zM64 68.6l1 .9-.5 .1zM93 64.8l1 0 .2 .8-.2 7.5-1.1-.1zM88.9 64.8l1.1 .1-.1 8.2-1.1-.1zM84.4 64.8l1 0 .2 .6-.2 7.7-1.3-.2zM64.9 64.8l1.2 .1-.1 4.2-1.2-.1zM59.9 64.8l1.2 .6-.3 3.7-1-.1zM54.4 64.8l1.4 .3-.3 4-1.4-.3zM65.9 64.4l.5-.2 .5 1zM64.9 64.2l-.8 1.2-.1-.6zM16.1 63.2l1.1 .7 .2 2.3-.6 .8-1.3-.8zM10.1 63.2l1.1 .7 .2 2.3-.8 .8-1.1-.6 0-2.4zM16 55.8l1.5 .6 0 2.7-.9 .8-1.2-.8 0-2.7zM10 55.8l1.5 .6 .1 2.6-1 .9-1.2-.9-.2-2.4zM16.1 48.6l1 .3-.2 2.9-1.1-.4zM16.8 48l.8 .5-.1 .7zM16.1 48l-.7 1.2-.2-.7zM10.8 48l.8 .5-.1 .7zM9.8 48l.4 .1-.4 .7 1.3 .1-.2 2.9-1.3-.3 0-2.5-.2 2.4-.4-.3 0-2.1zM59.5 44.8l1.3-.2 1.3 1.3-.1 7.2-3.2 0-.7-1.2 .1-4.9zM17.5 43.6l.1 .8-.8 .5zM15.4 43.6l.7 1.3-.9-.5zM11.5 43.6l.1 .8-.8 .5zM15.9 41.8l1.2 .1-.3 2.3-1-.2zM9.2 41.2l.4 2.7 0-2 1.5 0 0 2.1-1.3 .1 .3 .8-1.1-1-.2-2.1zM16.1 33.8l1 .6-.3 2.7-1-.6zM9.8 33.8l1 0 .3 .6-.3 2.7-1.2-.1z"/>
<path fill="#6a98a0" fill-rule="evenodd" d="M96.6 116.5l-.4 .5 1-.4 1 1-.4 1.9 .6-2.1-.5-.8zM88.4 116.6l-.3 .8 .7-.8 1.3 .8 0 1.5-.9 .7 .8-.1 .1-2.6zM80.9 116.5l-.7 .6 0 2 1.9 .5 .5-2.5zM81 116.8l1.5 .6 0 1.6-.7 .6-1.4-.6 0-1.6zM39.6 116.6l-.5-.4 .5 1.4-.8 1-27.4 0-1.4-.5-.2-1.6-.2 1.4 1 .7 28.4 0 .6-.6zM9.6 108.5l0 .9 1 .6 27.9 .1 1.3-.7-.2-1.2-1-.4-28.1 .1zM9.6 108.8l1.2-.8 28.3 0 .7 1.4-.7 .5-28.5 0zM98.1 107.1l0 2.4-.7 .5-1.3-.5 .4 .5 1.9-.4zM90 107.1l.2 2.1-1.1 .8-1-.5 .7 .6 1.7-.7 0-1.9zM80.4 107.1l-.3 2.4 1 .6 1.3-.2 .4-2.5-.6-.3 .6 2.3-2 .5-.7-.5zM50 101.6l-.9 1.2-6-.3 6 .4zM9.1 99.9l.4 1.5 1.4 .5 9.2-.4-1.1-.9-8.2 .2 .1-1.8zM9.8 99.1l.2 2.4-.6-1.4zM36.9 99l.5 .8 1.5 .2-.4 1-1.6 .4 2.3-.4-.1-2 .9 1.4-.5-1.4zM64.8 97.1l-.8 .9 0 3.5 .5 1 1.3 .3 1.1-1.3 0-3.5-.8-.9zM65 97.6l1.8 .9 0 2.9-.8 .8-1.1 0-.8-.8 0-2.9zM54.5 97.1l-.9 1.3 0 3.1 .6 1 1.2 .1 .8-1.1 0-3.1-.6-1.2zM54.6 97.5l1.4 .9 0 3.1-.8 .7-1.3-.7 0-3.3zM98.4 97l.1 2.4-1.5 .8 1.2-.1 .7-.9zM59.6 97l-.7 1.4 .2 4 1.3 .4 1.4-1 0-3.7-.8-.9zM59.6 97.5l1.8 1 0 2.9-1 1-1.4-.5 0-3.8zM97.5 96.9l-1.6 .5 .5 2.8 1.6-.8zM97 97.8l.6 .2-.4 1.2-.4-.3zM88.1 97l0 3.1 2.3-.1 .4-2.6-.7-.4 .5 .8-.2 1.8-1.2 .5 .8-.7 0-1.9-.5-.6zM89 97.8l.6 .2-.2 1.1-.5-.1zM80.2 97l-.2 2.8 1.1 .6 1.7-.4 .1-2.1-.3 1.9-1.8 .4-.7-.6-.1-1.8 .6-.6-.1 2.3 1.5 .3 .5-.6-.4-2.1 .8 .1zM81.2 97.9l.6 .1-.2 1.2-.5-.1zM8.9 91.4l0 1.1 1.2 .7 8.7 0-1.2-1.1-5.6-.1 1.1-.4 .7-1-3.6 0zM10.2 91.8l1.6 .2-1 .4zM30.9 90.5l1.5 1.1 6.4 0-.6 1.9 1.7-.5 .1-1.8-.6-.7zM96.2 87l-.2 3.8 1.9 .2 .6-1.4-.4 1.3 .5-.1 .2-3.3-1-.6zM97 88.1l.6 .3-.1 1.6-1.6-1zM88.2 87l-.3 2 1.6-.8 .1 1.6-.7 .2-1-.6 .1 1.4 2.6 0 .3-3.2-1.3-.7zM90.5 89.6l.1 .8-.6 .4zM80.2 87l-.4 1.4 .2 2.2 2.6 .3 .5-1-.2-2.7zM81.1 88.2l.8 .2-.1 1.5-.8-.1zM102.8 83.2l.3 8.4 6 .4-5.3-.1-.7-.5 .1-6.6zM65 83l-.6 .6 0 2.6 1.5 .7 .6-.7 0-2.6zM65.1 83.4l.9 .2-.2 2.9-.9-.4zM59.5 82.9l-.4 1.1 .9-.8 .5 .3 0 2.9-.5 .2-.9-.8 0 .8 1.3 .4 .6-.6 0-2.9zM64.6 81.9l-.8 1.6 .1 3.6 .7 .9 1.6 0 .8-.9 0-4.3-.8-.9zM64.8 82.4l1.3 0 .9 1 0 3-.9 1.1-1.3 0-.9-1.1 0-3zM59.5 81.9l-.6 1.2 .9-.9 1.7 .9 0 3.7-1.9 .8-.7-1 0 .6 .7 .8 1.6-.1 .8-1.3-.1-4-.7-.6zM54.4 81.9l-1 1 0 4.1 1.6 1 1.5-1 .1-3.5-.5-1.3zM53.5 85.9l1.4 1.2 1.2-1.5 .3 .6-.6 1.2-1 .2-.9-.5zM53.9 82.8l1.6-.4 .9 1.6-1.5-1.2-1.1 1.4zM117.6 81l-.1 4.1 .6-1zM40 81.2l-1.6-.3 .6 1-.4 1-15.2 .2-.5 .8 16 .2 1.1-.6zM9 81.1l0 2.3 2.2 .5-1.1-1.8 .7-1.1zM69.5 77.9l.1 23.7 .9 1.3 3.5 0 .9-.9 .2-18.9-1.3 1 1.2-.6-.4 18.4-.7 .7-3.5 0-.5-.8 0-17-.3-3 .3 .6 .1-3.2-.1-1.2 0 .9-.5-.1zM96.1 77l-.2 1.9 1.5-.7 .2 1.7-.6 .2-1.1-.9 0 1.4 2.7 .3 .3-3.3-1.1-.7zM98.5 79.6l.1 .8-.7 .5zM88.1 77l-.2 1.9 1.2-.8 .5 1.7-.7 .2-1-.8 0 1.4 2.7 .3 .3-3.3-1.1-.7zM90.5 79.6l.1 .8-.8 .5zM80.2 77l-.3 1.5 .6-1.3 .5 .3-1.2 1.9 .2 1.5 2.9 0 .2-1.5-1.2-1.9 .5-.3 .6 1.3-.1-1.3zM81.1 78.2l.9 .4-.4 1.3-.6-.4zM117.6 73.9l0 4 .5-.8zM64.5 72.9l-.7 1.3 .1 4 .6 .8 1.9 0 .7-1.4-.1-4-.6-.7zM66.8 77.5l.1 .6-.9 .5zM64 77.6l1 .9-.5 .1zM65.1 74.2l.9 .4-.2 3-.9-.4zM65.9 73.4l.5-.2 .5 1zM64.9 73.2l-.8 1.2-.1-.6zM59.5 72.9l-.6 .5 0 1.5 1.1-.8 .6 .4 0 2.9-.6 .4-1.1-.8 0 1.5 1.9 .5 1.1-.8 .1-4.1-.8-1.1zM53.8 73l-.6 .9 .2 4.6 2.7 .4 .5-.9-.1-4.6zM54.8 74.1l.4 .1-.1 3.6-.5-.2zM8.8 73.4l.1 1.6 1.5 .5 28.8 .1 .8-.6 0-2.1-.8-.7-29 .2zM10.1 73.9l28.8-.3 .1 .5zM90.9 71.6l-1 .4-.8 1.5-1.2-1 .1 1.4 2.4 .1zM69.5 69.9l0 3.1-.1-.9 .5-.1 0 .9zM102.9 68.4l-.1 9.6 .3-8.9 .1 9.8zM31.1 67.9l11 0 .8 .6 .1 29.6 0-29.6-.9-.9zM117.6 66.9l0 4 .5-1.1zM92.4 63.9l-.4 1.7 1.4-1 .6 .3 0 8.1-.6 .2-1.4-1 0 1.6 2.6 .2 .5-1.5-.1-8.3zM88 64l-.1 1.4 1.2-1 .8 1.5 1 .3-.5-2.3zM84 63.9l-.8 .9 0 8.3 .4 .8 2.3 .1 .6-1.2-.1-8.6zM64.5 63.9l-.7 1.3 .1 4 .6 .8 1.9 0 .7-1.4-.1-4-.6-.7zM66.8 68.5l.1 .6-.9 .5zM64 68.6l1 .9-.5 .1zM65.1 65.2l.9 .4-.2 3-.9-.4zM65.9 64.4l.5-.2 .5 1zM64.9 64.2l-.8 1.2-.1-.6zM59.5 63.9l-.6 .5 0 1.5 1.1-.8 .6 .4 0 2.9-.6 .4-1.1-.8 0 1.5 1.9 .5 1.1-.8 .1-4.1-.8-1.1zM53.8 64l-.6 .9 .2 4.6 2.7 .4 .5-.9-.1-4.6zM54.8 65.1l.4 .1-.1 3.6-.5-.2zM17.1 62.9l-2.1 .6 0 3.1 .8 .9 1.3 0 .8-.9 0-3.1zM16.1 63.2l1.1 .7 .2 2.3-.6 .8-1.3-.8zM11.6 63.1l-2.8 0 .2 4.3 2.6-.3zM10.1 63.2l1.1 .7 .2 2.3-.8 .8-1.1-1zM119.1 61.5l-.5 2 .2 27.7-.6 .6 .7-.7zM85.6 59.2l-.7 1.6-1.1 .3 1.3-.2zM16.2 56.1l-.4 2.3 .3 .8 .7 0 .3-2.4zM10.1 56.1l-.3 2.3 .3 .8 .7 0 .3-2.4zM16 55.4l-1.1 1 0 3 2.2 .6 .9-.6 0-3-.8-.9zM16 55.8l1.5 .6 0 2.7-.9 .8-1.2-.8 0-2.7zM8.9 55.2l-.1 4.8 2.7-.1 .5-.7-.1-3.1-1-.7zM10 55.8l1.5 .6 .1 2.6-1 .9-1.2-.9-.2-2.4zM91.9 53.6l-.1 .5 1.2 .5 0 5.2 1.8 .8-1.2-.7 .8 .1-.6-.5-.2-5.1-.5-.5 .5 .5-.1 5.2-.3-5.1zM49.2 48.9l-.3 6.2-1.8 .8 2.5-.7zM20.6 48.1l.4 19.5 7.6 .5-1.2-.5-5.6 0-.6-.5 0-17.6zM15.2 48l-.2 4.1 2.5 .4 .5-4-1.2-.7zM16.8 48l.8 .5-.1 .7zM16.1 48l-.7 1.2-.2-.7zM8.8 47.8l0 5.1 2.7-.4 .5-.9-.1-3.4zM10.2 49l.3 2.2-.5-.3zM10.8 48l.8 .5-.1 .7zM10.1 48l-.9 3.5-.2-2.5zM59.2 43.9l-1.2 1-.6 1.9-.2 5.3 .8 1.8 1.2 .1-.7-1.6 0-5.6 .7-1.6 1.7-.2 1 1 .1 7-.8 1 1.4 0 .5-1.5-.1-7-1.6-1.6zM50 42.2l-.1 13.3-2.3 1.1-.4 .9 0 5.7 2.8 1.4-.1 35.5 .2-35.3-.3-.8-1.7-.2-.3-1 .1-5.4 .6-.9 1.1-.1 .5-1zM15.1 41l-.1 3.6 2.6 .3 .3-3.8zM17.5 43.6l.1 .8-.8 .5zM15.4 43.6l.7 1.3-.9-.5zM8.8 40.8l0 4.3 2.8-.2 .3-3.8zM11.5 43.6l.1 .8-.8 .5zM10.4 41.8l.1 2.1-.5-.3zM9.2 41.2l.9 3.7-1.1-1-.2-2.1zM49.6 40.4l-.7 4.5 .6-.5zM65.6 37.2l1.2 2.7-.2-1.4zM53.1 36.9l-.7 2.7-.9 .4 1 .8-2.4 .6 2.9-.8zM15.9 32.9l-.9 .7-.1 3.2 .5 1 1.6 .2 .9-.8 .1-3.1-.5-1zM8.9 32.8l-.3 5 2.4 .2 1-1.2-.1-3.2-.9-.7zM10.4 34.4l.1 2.1-.5-.5zM64 29.6l-.1 1.3-.8-1.3-6.9 .3-3 9.3 2.8-8.7 .9-.6 6.5 .2 1.6 5.9 .9 1-1.1-4.2-.8-.8zM57.1 28.8l1.8 .7 1-.6z"/>
<path fill="#5f9299" fill-rule="evenodd" d="M35.5 101.4l2.9 .1-.9-.5zM13.1 101.6l1.1 .3 1-.7-1.1-.4zM64 98l1.6-.9 1.3 1.1-.8-1.1-1.3 0zM97.4 97l.5 2.5 .1-2zM59.6 97l-.5 .4 1.7-.2 1 1.2 0 3.1-1.4 1.3 1.4-1 0-3.7-.8-.9zM24.5 93.1l2.7 .1-1-.8zM9.6 90.9l-.7 .5 0 1.1 .6 .5zM39.5 90.9l-1.1-.1 1.5 1.1-.9 .5-5.4 0-1 .8 6.3 .3 1-.5zM10.6 90.6l-1.1 .9 0 .9 1 .8zM22.8 90.6l1 .9 8 0 1-.7zM97 87.4l1 .7-.5 2.8 1-1.3 0-1.5zM89 87.4l1.4 1.6-.4 1.4 .5-2.3zM80.1 88.1l2.7 0-.9-.7zM62 85l-.4 2.4-2 .6 2.2-.5zM24.8 83.8l-1-.8-1 .9zM15.5 83.8l2.7 .1-1-.9zM54.9 82.8l-1 1 0 2.3 1.1 1 1-1 0-2.3zM54.6 82.9l.8 .1-.3 4-.6-.2zM59 82.2l1.9-.2 1.1 1.8-.5-1.7zM54.4 81.9l-1 1 0 4.1 .8 .9-.8-1.3 .1-3.8 .6-.8 1.7 0 .7 1.1 0 3.8-.9 1 .9-.9 0-4.1-1-1zM9.6 81.2l-.1 1.8 .7 .8zM38.6 80.9l.5 .9 .9 .1-.2-1zM64.2 77.8l.8 .7 1.6-.7zM97.2 77.4l1.2 1.5-.6 1.9 .8-1.9-.4-1.1zM89.2 77.4l1.3 1.2-.3-.8zM80.2 78.1l2.4 0-.7-.7zM61.5 77.2l-1.3 1.3 .9-.3zM61.5 74.9l-.5 .6 .5 1.5zM39.9 74.2l-12.8 .4-.9 .5 13 0zM64.2 74.1l2.4 0-.7-.7zM60.2 73.4l1.3 1.2-.3-.8zM55.1 73.4l.5 1-.5 4.1 1-.6 0-3.9zM53.8 74l0 3.9 1 .6-.6-1 .6-4.1zM56 73l.6 1.1-.5 4.8 .5-.9 0-4.1zM53.8 73l-.6 .9 0 4.1 .7 .9-.7-1.1zM19.4 72.8l.8 .4 19.7 .4-.7-.8zM10 72.8l-.6 1.4 1 .9-1-1.1zM75.1 69.5l-.1 13.3-1 1.1 .4 .3 .5-.8 .1 1.4zM64.2 68.8l.8 .7 1.6-.7zM61.5 68.2l-1.3 1.3 .9-.3zM101.4 67.9l1.4 .5 .4 1.7-.2-1.9zM76.1 67.6l-1.2 .4-.3 1.2 .3-.8zM97.8 66.8l.3 1.2 1.3 0-1.2-.1zM80 66.4l-.6 1.2-2.9 .5 3.3-.1zM61.5 65.9l-.5 .6 .5 1.5zM90.2 64.6l-.4 .6 0 7.4 .7 .6 .4-7.7zM64.2 65.1l2.4 0-.7-.7zM60.2 64.4l1.3 1.2-.3-.8zM55.1 64.4l.5 1-.5 4.1 1-.6 0-3.9zM53.8 65l0 3.9 1 .6-.6-1 .6-4.1zM56 64l.6 1.1-.5 4.8 .5-.9 0-4.1zM53.8 64l-.6 .9 0 4.1 .7 .9-.7-1.1zM84.2 63.9l-.4 1.1 0 7.9 .8 1.1zM70.2 63.8l-.8 .4 0 6.7 .1-6zM11 63l.9 2 0-1.5zM8.9 63l-.1 4.1 2.7 .1 .4-1.3-.8 1.3-1.2 0-.9-.8 0-2.4 .9-1zM16.6 62.9l1.2 1 0 2.5-.9 1-1.8-.9 0-2.5 1-1.1-1.1 .6 0 3.1 .8 .9 1.3 0 .8-.9 0-3.1zM72.2 61.8l-.3 1.6-.9 .5 1.2-.5zM82.1 60.6l-1.9 .3-.2 1.3 .4-1.1zM93 59.6l1 .9 3.2 0 .6 1.5 .1-1.5 .3 2.4-.2-2.7-4.5 0zM8.8 59.4l0 .6 .8 0zM48.6 56.5l-1 1.1 .3 5.8 0-6zM15.9 56.4l-.1 .8 .3-.8 .7 0 .3 .8-.2-1zM9.9 56.4l.9 0 .3 .8-.2-1zM8.6 56l1.2-.5-.9-.3zM93.6 54.9l0 4.6 .8 .5-.6-.5zM92.8 53.8l-7.3-.2-.5 .9 .2 5-.7 1.1 .6-.6 .3 .5-1.6 .6 1.7-.9 .4-6zM8.6 52.5l2.3 .1 1-.6-1 .6-2.1-.6zM15.2 51.1l.7 1 1.1 0 .6-1-.8 .5zM11.6 51.1l-2.2 .4 .5 .6 1.1 0zM128 49.1l-8.9 .4-.1 13.7 .4-13.4 6.8-.2 1 .5zM10.2 48.1l-.4 .8 .7-.8 1 1.9-.4-1.4zM8.8 48.2l.7-.3-.7-.1zM57.6 46.6l.2 6.4 .4-.6 0-5.2zM8.8 44.6l0 .5 .7-.1zM60.2 44.1l2.6 2.3-.3-1.2 .5 .3-1.4-1.5zM11.5 42.9l-1 1.9-.7-.8 .4 .8 .9-.6zM10.2 40.9l-.7 .3-.1 1.8zM66 38.8l1.1 2.3 2.3 .5-.2 14 .7 .9 1.3 0 .6 1.6 .2-1.5 .2 2.4 0-2.5-2.6-.9 .3-13.2-.7-1.3-2-.2zM11.9 37.1l-1 .9-2.1-.8-.2 .6 2.4 .2zM15.4 36.2l.7 1.3 1.4-.9-1.3 .4zM64.9 35.5l1 2.9 0-1.5zM15.4 34.2l1.2-.3 .9 .7-.7-1.2zM10.1 33.4l-.7 1 0 2.1 .5 .9 .9 .1 .7-1.3-.9 .8-1-.4 0-2.4 1.9 0zM64 32.8l.9 2.3 0-1.2zM8.6 33.1l.2 .5 2.1-.7 1 .9-.9-.9zM7.9 28.1l.9 1 11.8-.2 .3 20.5 0-20.8z"/>
<path fill="#92b7bf" fill-rule="evenodd" d="M9.9 100.2l.6 1.4 9.3-.1-1-1-3.3 .4zM9.5 91.5l0 .9 1 .8 2-.3-.9-1.1 5.6 .1-.7 1.1 22.1 .2 1.3-.8-.7-1.6-28.6-.2zM96.5 87.4l-.6 .7 0 1.8 .5 .9 1.1 .1 1-1.3 0-1.5-.7-.7zM88.5 87.4l-.6 .7 0 2.1 1.6 .7 1-1.3 0-1.5-.7-.7zM81 87.4l-.9 .7 0 1.9 .8 .8 1.1 0 .8-.8 0-1.9zM74.9 82.9l-1.7 1.5 1.2-.2zM9.5 83l.9 .9 28.4-.1 .8-.6 .4-1.4-.8-.9-2.3 0 .5 .9 1.2 .2-.4 .8-27.3 0-.4-.7 1-1.2-2 .5zM96.5 77.4l-.6 .6 0 2.1 1.2 .9 1.5-2.1-.5-1.3zM88.5 77.4l-.6 .6 0 2.1 1.2 .9 1.5-2.1-.5-1.3zM81 77.4l-.8 .7 0 2.1 2 .4 .4-2.5zM81.2 78.5l.6 .1-.3 1.2zM64.1 76.5l0 1 .9 1 .9 0 .9-1 0-1-1.2 .9zM64.1 74.4l0 1 1.1-.9 1.6 .9 0-1-.9-1-.9 0zM59.5 73.4l-.6 .6 0 3.9 1.7 .6 .9-.9 0-3.4-.9-.8zM54.2 73.4l-.4 .6 0 3.9 .4 .6 1.4 0 .5-.6 0-3.9-.5-.6zM9.4 73.6l.7 1.5 29.1 0 .8-1-.8-1.3-29.2 0zM76.1 67.6l-1.2 .4-.3 1.2 .3-.8zM64.1 67.5l0 1 .9 1 .9 0 .9-1 0-1-1.2 .9zM80 66.4l-1.2 1.5 .8-.3zM64.1 65.4l0 1 1.1-.9 1.6 .9 0-1-.9-1-.9 0zM59.5 64.4l-.6 .6 0 3.9 1.7 .6 .9-.9 0-3.4-.9-.8zM54.2 64.4l-.4 .6 0 3.9 .4 .6 1.4 0 .5-.6 0-3.9-.5-.6zM93.2 63.9l-1.2 .9 0 8.3 .5 .8 1.1 .1 .8-.1 .5-1-.1-1.1-1.3 1.3-.4-.2 0-7.9 .4-.2 1.3 1.3 .1-1.6zM88.4 63.9l-.5 2.3 1.5-1.1 0 7.7-1.5-1.2 0 1.8 .5 .6 1.5 0 .7-1 0-8.1-.7-1zM84.2 63.9l-.4 1.1 0 7.9 .4 1.1 1.4 0 .5-1.1 0-7.9-.5-1.1zM95.4 60l2.1 .1 .7 1 0 5.1 0-5.7zM71 56.1l1.2 1 0 5.4-.6 1.4 .6-.5 0-6.9zM93.1 53.9l.5 .5 0 5.1 .8 .5-.6-.5 0-4.4zM85 58.5l.1-4 .7-.7 7 0-7.3-.2-.5 .9zM16.2 48.1l-.8 1.1-.2 1.9 .7 1 1.1 0 .6-1-.1-1.9zM10.2 48.1l-.8 1.5 0 1.9 .5 .6 1.1 0 .6-1-.1-1.9zM59.5 44.1l-1.6 1.4-.3 7.1 .8 1.4 3.7 0 .8-.6-.1-1.6-1.3 1.2-2.6-.2 0-6.9 1.5-.8 2.4 2.5-.6-2.7zM16.2 40.9l-.8 .5 0 2.2 1.2 1.2 .9-1.2 .1-1.7-.5-.9zM9.5 41.2l-.1 2 1.2 1.6 .9-1.2 .1-1.7-.5-.9zM16.1 33.4l-.7 .8 0 2.4 1.4 .9 .7-.9 0-2.4zM10.1 33.4l-.7 1 0 2.1 .5 .9 .9 .1 .7-.9 0-2.4z"/>
<path fill="#a7d4d8" fill-rule="evenodd" d="M9.8 99.9l.8 1.5 27.9 .1 1-1-.7-1.5-28.3 0zM96.6 97l-.6 2.2 1.4 .7 .6-.5 0-1.9zM88.6 97l-.6 2.1 1.1 .9 .9-.6 0-1.9zM80.8 97.1l-.3 2.4 1.7 .1 .2-2.2zM13.2 91.1l1 1 5.7 0 0 .7 1.2 .1 17.1-.1-1-1-5 0 0-.8zM9.9 91.1l-.4 1.3 1.6 .5 0-1.9zM90.2 88.9l-1.3 1.6 1.2-.3zM98.2 88.8l-1 .6-.3 1.1 1.3-.4zM80.8 87.6l-.4 2.9 2.1 0-.1-2.6zM70.1 84.1l3.1 .3 1-.5zM65 83l-.6 .6 0 2.6 1.5 .7 .6-.7 0-2.6zM59.5 82.9l-.4 3.7 1.3 .4 .6-.6 0-2.9zM54.9 82.8l-1 1 0 2.3 1.1 1 1-1 0-2.3zM39.5 81.6l-1.7 1.3-.2 .7 2-.4zM115.5 81l-.5 .5 .1 3.3 2.1 .4 .9-1.1-.1-2.7-.6-.5zM109.6 81.1l-.1 3.8 2.7 .1 .3-3.6-.7-.5zM98.2 78.9l-1.3 1.6 1.2-.3zM90.2 78.9l-1.2 1.6 1.1-.3zM80.8 77.6l-.6 2.6 2 .4 .4-2.2-.5-.8zM64.2 77.1l.6 1.1 1.3 0 .5-.7-.2-.5zM109.6 73.9l-.2 3.6 .7 .5 2.1-.2 .2-3.8zM117.2 73.6l-2.1 .5-.1 3.3 .5 .5 1.9 .1 .6-.5 0-3.1zM64.2 74.4l.3 .5 2.1-.1-.5-1.2-1.3 0zM64.2 68.1l.6 1.1 1.3 0 .5-.7-.2-.5zM109.6 66.9l-.2 3.6 .7 .5 2.1-.2 .2-3.8zM117.2 66.6l-2.1 .5-.1 3.3 .5 .5 1.9 .1 .6-.5 0-3.1zM64.2 65.4l.3 .5 2.1-.1-.5-1.2-1.3 0zM106.2 63.1l-.1 20-.6 .9-1.7 0 1 .4 1-.3 .6-1.1zM32.6 60.1l0 5.9-.6 1.2 .8-1zM16.2 56.1l-.4 2.3 .3 .8 .7 0 .3-2.4zM10.1 56.1l-.3 2.3 .3 .8 .7 0 .3-2.4zM49.2 48.9l-1.7 0-.9 .9 .5 6.1 2.5-.7zM41.9 48.9l-.9 .6 0 6.3 .8 1 1.6 .1 .6-.9 0-6.5-.6-.6zM36.9 48.9l-.9 .6 0 6.3 .8 1 1.6 .1 .6-.9 0-6.5-.6-.6zM16 48.4l-.4 1.6 1.6 0-.1-1.4zM10 48.4l-.4 1.6 1.6 0-.1-1.4zM15.6 42.9l.2 1.3 1.1 .3 .3-1.6zM9.6 42.9l.2 1.3 1.1 .3 .3-1.6zM53.1 36.9l-1.5 .7-.1 2.5 .5 .5 .8-.4zM47.5 36.9l-.9 .9 .2 6.4 .7 .7 1.6 0 .5-1.3 0-6-.8-.7zM41.9 36.9l-.9 .6 0 6.3 .8 1 1.6 .1 .6-.9 0-6.5-.6-.6zM36.9 36.9l-.9 .6 0 6.3 .8 1 1.6 .1 .6-.9 0-6.5-.6-.6zM57.9 24.9l-.9 .6 0 2.9 .4 .7 1.7 .4 .9-1 0-3-.6-.6zM52.5 24.9l-.9 .9 .2 6.4 .7 .7 1.6 0 .8-2.3-.3-5-.8-.7zM47.5 24.9l-.9 .9 .2 6.4 1.6 .7 1.2-1.5 0-5.8-.8-.7zM41.9 24.9l-.9 .6 0 6.3 .8 1 1.6 .1 .6-.9 0-6.5-.6-.6zM36.9 24.9l-.9 .6 0 6.3 .8 1 1.6 .1 .6-.9 0-6.5-.6-.6z"/>
<path fill="#b7d1da" fill-rule="evenodd" d="M31.1 91.2l1.4 .9 5.3-.1-.3 .8 1 .1 1-.5 0-.9-1.1-.6zM10 91.6l.6 1.3 8.2-.1-.6-.9-4.4-.1 0-.7-3.3-.1zM81.2 87.6l-.8 .5-.2 1.1 1.4 1.3 1-2zM96.8 87.5l-.7 .6 0 1.9 1.5 .5 .6-1.9zM88.8 87.5l-.8 2 .5 1 1.1 0 .6-1.9zM9.5 81.8l1.1 1.8 27.6 0 1.3-1.2-.3-1.2-1.4-.3-26.8 0zM81.2 77.6l-.8 .5-.2 1.1 1.3 1.4 1.1-2.2zM96.8 77.5l-.8 2.1 .4 .8 1.2 .1 .6-1.9zM88.8 77.5l-.8 2.1 .5 .9 1.3 0 .3-2.3zM65.2 73.6l-1 .8-.1 2.5 .4 1 1.1 .3 1-.7 .2-2.5-.4-1zM54.6 73.6l-.7 1 0 2.6 1.3 1 .8-1 0-2.6zM59.8 73.5l-.9 2.9 .3 1.5 .8 .5 1.1-.8 .1-3zM9.6 73.6l.9 1.4 28.3-.1 .7-.5-.1-1.2-28.8-.3zM65.2 64.6l-1 .8-.1 2.5 .4 1 1.1 .3 1-.7 .2-2.5-.4-1zM54.6 64.6l-.7 1 0 2.6 1.3 1 .8-1 0-2.6zM59.8 64.5l-.9 2.9 .3 1.5 .8 .5 1.1-.8 .1-3zM88.8 64l-.9 1.4 .2 8 1 .5 1.1-.7 0-8.6zM84.6 64l-.7 .6 0 8.6 1.3 .7 .8-.7 0-8.6zM93.2 63.9l-1 .7 0 8.6 1.4 .8 1.2-1.4 0-7.4-.8-1.2zM16 48.4l-.4 2.8 .9 .7 .7-.7-.3-2.8zM10 48.4l-.4 2.8 .9 .7 .7-.7-.3-2.8zM59.6 44.2l-1.6 1.4 0 7.5 .8 .8 3 0 1-1.3 0-5.8-1.4-2.2zM60.1 45.4l1.3 1.2 0 6-2.3 .3-.5-6.8zM16.2 41l-.6 .8 .4 2.7 .9 0 .3-2.7zM10.2 41l-.6 .8 .4 2.7 .9 0 .3-2.7zM16.1 33.8l-.5 2.2 .3 .9 .9 .2 .4-2.2-.2-.9zM10.1 33.8l-.5 2.2 .3 .9 .9 .2 .4-2.2-.2-.9z"/>
<path fill="#dcedf6" fill-rule="evenodd" d="M10 91.6l.5 1.2 28 0 1-.7-1-1-28 0zM81.1 88.1l-.6 1.4 1.3 .7 .6-1.4zM96.9 87.9l-.8 .6 .5 2 1.3-1.3zM88.9 87.9l-.8 .6 .5 2 1.3-1.4zM9.9 81.6l1 1.8 27.6 0 1-1.3-.6-1-28.5 0zM81.1 78.1l-.6 1.4 1.3 .7 .6-1.6zM96.6 78l-.5 1.9 1 .6 .8-1.7zM88.6 78l-.5 1.8 1 .7 .8-1.7zM65.1 74.1l-.6 .7 0 2.3 1.3 .7 .6-.7 0-2.3zM59.6 74l-.5 .5 0 2.9 1.1 .5 .6-.5 0-2.9zM54.9 73.9l-.8 .6 0 2.9 .9 .6 .8-.6 0-2.9zM9.9 73.8l.6 1 28 0 1-.7-1-1-28 0zM65.1 65.1l-.6 .7 0 2.3 1.3 .7 .6-.7 0-2.3zM59.6 65l-.5 .5 0 2.9 1.1 .5 .6-.5 0-2.9zM54.9 64.9l-.8 .6 0 2.9 .9 .6 .8-.6 0-2.9zM92.8 64.2l-.3 9.2 1.6 .2 .3-9.1zM88.8 64l-.7 .5 0 8.9 1 .5 .8-.7 0-8.6zM84.6 64l-.5 .5 0 8.9 1.1 .5 .6-.5 0-8.9zM16.4 48.8l-.5 2.3 .6 .5 .5-1.8zM10.4 48.8l-.5 2.3 .6 .5 .5-1.8zM60.1 44.5l-2.1 1.1 0 7.5 .8 .8 3.6-.5-.2-7-1-1.5zM16.2 41.2l-.3 1.9 .6 1 .5-2.5zM10.2 41.2l-.3 1.9 .6 1 .5-2.5zM16.2 34.2l-.3 1.9 .7 .5 .4-1.8zM10.2 34.2l-.3 1.9 .7 .5 .4-1.8z"/></g>
</svg>
<svg x="434.85" y="238.55" width="53.3" height="50.17" viewBox="0 0 136 128">
<defs></defs>
<path fill="#424242" fill-rule="evenodd" d="M67.6 13.2l-2.4 .9-35.8 21.7-3 1.4-9 5.7-5.9 3.2-3.4 2.4-.1 1.3 12.8 7.1 3.8 2.5 3.2 1.5 .6 .6 1.8 .6 1.9-.6 7.9-5.5 1.1-.4 .8-.7 1-.4 2.3-1.7 .9-.3 2.1-1.6 1-.3 4-2.7 1-.3 4-2.7 1-.3 3.8-2.2 .6-.6 1-2.4 1.3-1.3 1.6-.5 2 .2 .7 1.3-2.3 2.8-1.7 .9-2.3-.2-.8 .3-.5 .6-.1 1.3-3.9 2.2-.7 .9 0 1 .7 .9 1 .2 6.3-2.9 2 .7 1.1 0 1.4-.7 1.4-.1-2.8 2-.9 .1-1.1 .9-1 .1-3.1 1.8-3.7 1.5-.4 .5-1.3 .2-3.4 1.9-1.5 .4-.6 .6-1 .1-1.4 .9-2.6 1-1.2 .9-3.3 1.2-6.4 3.4-1.7 1.6-1.4 2.5-.6 7.8 .1 1.4 2.3 3.4-.3 2.4-1.7 2.6 0 2.4 1.2 5 1 1.5 .5 .3-.3-1 .7-.3 9 5.7 3.9 1.8 5.8 2.2 3.9 1 6.1 .6 .9 .4 4.9 0 .8-.4 1.8 0 5.2-.9 3-.7 5.2-1.9 6.6-3.3 7.2-4.7 .8-2 .1-2.4 .9-3.6 1.2-11.9 .6-1.8 .3-.3-.2-3-1.5 .5-1.8 1.4-31.1 18.8-2.4 0-2.3-1-18.6-11.6-1.2-.4-3 .3-1 .5-1.1 1.1-1 1.6-1 3.1-1 4.9-.3 4.4-.4-.6 0-2.8-.7-2.1 1.7-2.5 .3-3-.3-1.6-2-2.9 .2-6.9 .4-.6 6.6 4.5 1.2 .4 3.8 2.6 1 .2 2.5 1.8 1 .2 .7 .8 2.3 1.1 1 .9 1 .2 .7 .8 4.5 2.4 .8 .7 .9 .3 2.1 1.5 2.1 .3 3.5-1.3 30.9-18.7 1.5-.3-.3-1.4 .9-1.1-.1-.3-.9-.2-2 .7-.3-.2 12.2-6.8 2.1-1.5 4.9-2.5 .6-.6 2.9-1.4 4-2.5 0-1.3-.7-.8-2.8-1.9-5.9-3.2-9-5.7-3-1.4-35.9-21.7-1.7-.7zM95.5 69l-4 2.6-.6 0 3.7-2.5zM40.5 68.6l1 .3 6.7 3.9 .7 .6 4.9 2.5 2.2 1.6 4.8 2.4 4 2.6 3.6 1.6 1.4-.3 12.7-7.7 4.9-2.5 2.1-1.5 1-.1-21 12.6-1.3 .2-1.1 .6-25.9-15.2-.7-1z"/>
<path fill="#212121" fill-rule="evenodd" d="M104 71.1l-.9 0-.6 1.1zM104.2 65.6l-.7-.1-2.6 .9-27.4 16.6-5.6 2.9-2-.8-2.3-1.6-4.5-2.4-.9-.9-4.1-2.1-.9-.9-4.4-2.2-2.4-1.8-4.3-2.2-2.7-2.1 0 .7 .8 1.5-4.4-3.3-1 .7-.6 1.3-.1-.8 1.5-2.5-.5 .1-1.5 1.3-.6 1.5-.1 8.4 2 3 .1 .8-.1 2-1.8 2.5 1 7.4 1.3 1.6-.2-.7 .4-.3-.5-.9 .1-.4 1.4 1.8 .6 .4 .4-.2 .4-6.3 1-4.9 1-3.1 .9-1.4 1.6-1.2 3.3 .1 18.6 11.8 2.6 1 2.6 0 4-2.2 30.3-18.6-.1-3.2-2.2 .6-27.4 16.6-5.8 3-1.8 0-6.7-4-.4-.6 6.4 3.7 1.9 .4 6.2-3.1 27.4-16.6 2.5-.7zM35.1 85.1l-.7 1.4 .1 1.6 .6 1.4-.1 2.7-.6-1.2-.5-4.4zM57.6 81.4l1.9 1-1.1-.3zM55.6 80.2l1.6 .8-.6 .1zM54.4 79.5l1.1 .5-.4 .1zM52.6 78.4l1.9 1-1.1-.3zM50.6 77.2l1.6 .8-.6 .1zM49.4 76.5l1.1 .5-.4 .1zM45.8 74.4l3.2 1.7-.9 0zM40.8 71.4l3.2 1.7-.9 0zM34.1 70.2l0 7.2 2 2.8 .3 1.7-.2 1.9-.8 1.2 .5-1.8 0-2.3-2.3-3.5-.1-1.4z"/>
<path fill="#616161" fill-rule="evenodd" d="M103.9 71l-1.1 .5-.6 1.5-1.3 12.5-.9 3.6-.1 2.4-.8 1.6 0 1.5 3.9-3.2 .4-1.3 1-11zM127.9 49l-1 .1-3.8 2.7-15.3 8.4-10.7 6.6-3.2 1.4-3.8 2.6-8.3 4.4-13 7.8-3.3-1.4-24.7-14.5-.7-.1-.5 .4-.4 1.8 1.3 1.9 25.4 15 1.9 .4 6.2-3.1 27.4-16.6 2.5-.7 .9-1 19.4-11.3 3.6-2.6zM50.4 75l1.1 .2 15 8.8 .3 .6-5.7-3zM48.6 74l.9 .1 1 .8zM45.5 72.1l1.1 .5-.4 .2zM74 44.8l-.8-.4-1.8 1.5-2.4 .7-3.6-.6-6 2.9-.4-.4 .4-.6 4-2.3 .5-1.8 2.9 0 1.8-1 2.4-2.6 .5-1.4-1.3-1.9-.8-.4-2 0-1.8 .5-2 1.8-1.4 2.7-4.7 2.5-9 5.8-1 .2-11.1 7-5 3.6-1.2 .4-6.6-3.5-14.7-8.7-.9 0 0 1.4 20 11.7 2.2 .7 1.9-1.2 .3-1.2 1.5 0 2.3-1.8 5.4-3 3-2.4 2-.8 2-1.3 .6-.9 1-.1 3.4-2 .6-.9 2.4-.8 4.3-2.7 1.1 0 .2 1.4-.6 .7 .2 .9-.8 .3-1.5-.4-3.1 1.7-.6 .8 0 1.1 .8 .9 1.8 0 2.1-1.5 2.5-.6 1.9-1.3 4.2 .3 1.8-.4-.3 .5-5.6 2.7-.9 .9-.9 0-7.1 3.3-.7 .7-2.4 .6-15.6 7.7-2.6 2-.2 1 .5 .4 1.8-1.8 1.7-1.2 31.2-14.3 3-2.1 1.2-1.9z"/>
<path fill="#9e9e9e" fill-rule="evenodd" d="M40.1 68.1l-.2 1.1 .6 1.4 25 14.9 1.9 .5 .5-.5 0-1.9-.5-.5-26.5-15.2zM8 49.1l.1 2 .7 .7 19.1 11.4 .3 .7-.1 1.1 1.1-.5 1.9-2.3 0-1.3-.9 .6-1.4-.5-19.8-11.6z"/>
<path fill="#e2a610" fill-rule="evenodd" d="M26.6 90.5l.2 1.3-1.8 5-2.1 13.3-1 4-2.1 5.3 .8 1 1.2-.5 2-4.4 .2-1.6 .5-.5 .5 1.1-.1 6.9 .5 .5 1.1 0 1.1-.8 2.4 1.5 1.2 0 3.3-1.6 .9 1 1.1 0 .9-1.4 0-3.5-.4-1.6-.2-8.9-.8-5.1-.1-4.7-.7-1.9 .4-.8-1.5-3.5zM73.8 45.1l-.6-.3-.6 .1-2.5 1.6-5-.1-6.3 2.7-.9 .8-.8 0 0-.9 6.3-3.5-.4-3.3-.5-.4-.7 0-17.4 10.2-14.3 9.5-1.9 2.3-.7 3.4 0 10-2.3 3.4-.1 2.8 1 2.1 .8 .7-.1 1.3 1 .4 5.8-.4 1.6-2.6 .7-1.7 0-2.3-2.3-3.5-.1-1.6 .6-6.8 1.9-2.9 2.6-1.9 30.8-14.3 3.6-2.5zM67.6 48.6l-30.2 14.3-2.4 1.6-2.6 3.1-2.6-1.1 .6-2.9 3-2.4 10.7-7 2.7-1.2 5.3-3.6 1-.3 8.1-5 .2 .7-5.8 3.1-2.2 1.7-.4 2.2 .6 .7 1 .3 2.3-.7 1-.7 1.1-.2 1.1-.8 1.7-.3 3.2-1.7z"/>
<path fill="#ffca28" fill-rule="evenodd" d="M20.9 118.6l-.3 .6 .5 .2 .1-.5zM73.6 45.5l-1-.6-2.5 1.6-5-.1-6.3 2.7-.9 .8-.8 0 0-.9 6.3-3.5-.4-3.3-.5-.4-.7 0-17.4 10.2-12.4 8-1.9 1.6 2.1-1.4 .3 .2-3.4 3-.6 2.2 .1 1.4 .5 .6 2.1 1 1.8 .3 1.6-2.4 3.5-2.7 10.4-5.2 1-.1 .9-.7 3.1-1.2 1.4-1 1.1-.1 1.2-.9 7.6-3.2 .6-.6 1.2-.3 3-1.7 1.2-.3-.2 .4-3.2 1.7-28.6 13.3-3.8 2.7-1.2 2 0 1.3 1.6-3.1 3.2-2.6 30.8-14.3 3.6-2.5zM59.9 49.2l-3.5 1.9-1.8 .5-.5-.2 .7-1.5 3.6-2.3 .5 .3-2.4 1.2-1.4 1.1 0 .4 .8 .3 3.5-1.8zM73.2 45.8l-.7 1.4 .1-.8-.4-.4-1.8 1.2-5.8 0-3.4 1.9-1.4 0 5.2-2.3 3.8 .2 1.4-.2 2.2-1.4zM62.9 42.5l.1 2.9-3.5 2.2-.6 0 3.7-2.4 0-2.2-.8-.5-23.3 13.9-5.1 3.7-1 .1 11.7-7.7 17.4-10.4 .7-.1z"/>
<path fill="#9f750b" fill-rule="evenodd" d="M73.8 45.1l-.6-.3-.6 .1-2.5 1.6-5-.1-6.3 2.7-.9 .8-.8 0 0-.9 6.3-3.5-.4-3.3-.5-.4-.7 0-17.4 10.2-14.3 9.5 .7 0 10.3-7.1 20.7-12.4 1.1 .5 .1 2.9-6.5 3.7-1.4 1.1 .3 .7 9.6-4.1 4.6 .1 2.8-1.5 .6 0 .2 .6-1.3 1.9-2.4 1.6-26.7 12.4-7 4-2 2.7-.3 4.6-.6 2.3 .1 1.7 1.6 2.2 .9 2.1-.7 3.5-1.7 1.5-5.3 .3-.8-.4-.5 2.8 .3 2.4 6.8 0 .9 .6 .4 1.4 .7 .5-1.2-3.1-.5-4.4 1.7-2.6 .3-3.1-2.3-3.5-.1-1.6 .6-6.8 1.9-2.9 2.6-1.9 30.8-14.3 3.6-2.5z"/>
</svg>
<svg x="764.65" y="219.45" width="53.3" height="50.17" viewBox="0 0 136 128">
<defs></defs>
<path fill="#82aec0" fill-rule="evenodd" d="M65.6 90.1l-1.5 .4 .8 1-.8 6 .1 .9-.6 1.4 .9 .2 2-.1 1.1-1.3 .3-6.6-1.4-1.6zM17.1 6.2l1.3 .9 1 1.3 .7 .2 5.8-1.6 4.1 .1 4.8 .8 9.7 3 6.7 2.9 6.8 3.3 14.5 8.5-38.9 16.5-.7 .7-.3 1.2 2 2 1.9-.1 3.6-1.4 3.3-1.6 5.8-2.3 1.2-.7 4-1.4 5.7-2.7 1.3-.3 8.2-3.7 3.5-1.3 3.3-1.7 .7 .1 1.8 1.5 .9 .2 2.4 2 .2 .5-3.2 3.7-.4 1.1-4.8 6.1-.4 .8 0 1.8 .9 1.3 1 .3 1.3 0 1.2-.4 8.6-11.7 6.4 5.4 0 2.7-.5 1.2-.4 2.6 0 4.1-1.1 5.9 .1 2.1-.3 4.3-.8 3.7 .1 2-.6 6.8-.5 1.3 .1 3.8-.3 1.4 .2 2.1-.8 .5-2.4-.2-1.2-.8-3-.6-1.6-1.2-1.2-.3-2-1.4-3.8-1.7-8.9-5.6-14-10.1-9.2-8-9.1-9.1-7-8.2-2.8-3.8-4.9-8.1-.3-1.5-1-1.4-.3-1.4-1-1.1-.1-2-.6-1.5-.9-.5-.1 1.9 .2 3.2 1.1 6.3 .9 2.6 .1 1.5 .8 1.6 .2 1.6 2 5.9 2.9 7 3.1 6.5 5.9 9.8 7.1 9.1 4.3 4 0 .4 .7-.7 .1 1.3 .8 1.5 2 1.8 1.9 .1 1.7-1.3 1.4-2.4 0-2-1.1-2.2-1-1-1.5-.5-2.2 .6-1.3 1.7 0-.9 1.1-1.8 .8-.5 1.3 .4 2.7 .1 1.1 1 .9 1.4 .6 4 .5 1.3-.1 4.2 .2 2.8 .4 .7 0 1.4 .5 1.9-.1 4.2 .2 2.8 .4 .7 0 1.4 .5 1.9-.1 4.2 .2 2.8 .4 .7 0 1.4 .7 3.5 1 1.5 2.4 1.7 3.1 1.2 2.9 .3 1.9-.1 1.1 .4 5.9 0 1.1-.4 2.9 .1 4.7-.3 2.4-.8 1.5-.1 7.4-2.3 2-1 1.1-1 1.1-.1-.8-1.5-4.4-3.9-6.2-3-1.6-.3-2.2-1.4-.6-5.9-.8-2.7 .1-.6 .9-.4-1.4-.8-1.5-.2-1.2 .1-.9 1.1 .4 6.5 .7 2.9 .1 2.8-.3 .8-3.1 .5-1.6 .6-1.8 .1-2.3 .9-1.7 .1-2 .8-3 .4-1.6 .7-1.4 0-2.4 .7-.9-6-.3-7.7-.4-.9-.6-10.1-.4-.9-.5-5-.1-4.3-.9-3.1-1.1-1.9 .3 0 1 1 1.9 3.5 .1 2.2 .9 3 1 .9 2.8 .5 1.6 .6 2.4 .2 2.3 .8 5.3 .4 1.1 .5 7.7 .1 3.2 .4 1.4 .8 3.1 .8 3.5 1.8 1.8 .4 4.6 1.7 2 .3 2.6 .8 2.4 .2 1.7 .7 7.1 .3 3.9-.8 2.5-1.4 3.8-3.8 1.1-2.7 .2-1.7-.2-5.2-1.3-4.4-2.8-6.3-4-6.4-4-5.3-7.9-9-4.7-4.7-1.3-1-1.8-1.7-.2-.6 .2-4.6 .7-3.8 .2-5.9 .4-.9 .2-3 2.3-2.2 4.9-6.3 .3-1.6-.5-1.6-1.7-1.8-1.5-.9-2.2 0-2.1 2.2-5 6.6 0 1.4-.5 .6-7.6 3.1-.9 .7-3.6 1.2-1.4 .9-2.1 .5-8-5.2-8.9-5-8.9-4.2-.6 0-1.5-.9-8-2.9-4.2-1.1-6.3-1.1-7.6 0-4.2 1.1zM45.8 76l.7 0 .4 .4 .6 1.5-.5 2-.9 .6-1.1-.7-.2-.9 .2-2.1zM96.9 45l7.3 7.1 6.9 7.9 .4 .9 .7 .6 1.9 2.5 .4 1 1.5 1.8 4 7.4 .4 1.7 .6 1.1 .1 1.8 .8 2.8-.8 3.3-.9 1.2-2.4 2.1-2.2 .9-9 0-3.1-1-1.5 0-1.8-.9-1.7-.2-5.3-2.2 .2-2.9 .5-1.5-.1-3.5 .3-1.3 .3-3.7 .5-1.5-.1-3.6 1-6.4 .1-6.8 .5-1 0-1.6 .4-1.1zM95 21l.1 .4-.7 1.5 0 .7 .8-.4 .3 .8-.5 3.2-.1 4.2-.9 5.5-.9 .1-1.9-1.9-3.2-2.5 .1-.8-.6 .1-4.4 5-6.1 8.5-1 .6-.1-.5 .5-1 1.1-1.1 2-3.2 4.7-6 1.7-3.4 0-.8-.3 .2-1.1-.2-3.7-3-.2-.6 5.2-2.4 3.4-1.2 1.2-.8 1.1 0 .1 .6-.2 .4 .6-.1 .8-.9zM101 9.6l.2 .3-.1 .7-1.2 2.4-1.9 2.1-1.9 1.1-.1-.2 1.4-2.9 3.1-3.3z"/>
<path fill="#94d1e0" fill-rule="evenodd" d="M80.1 85.8l1.9 .7 1.6 .1 1.5 .9 3.1 .4-4.7-1.8zM45.5 75.1l-1.3 1.1-.4 2.4 .4 1.6 2 1.2 1.6-1 .6-2.8-1.2-2.2zM46.4 75.4l1.5 1.6 .2 1.8-.9 1.4-1.2 .9-1.4-1.1-.6-1.8 .8-2zM23.9 115.6l.1 1.2 1.4 1.1 6.4 2.9 6.6 1.2 2.1 .8 11.4 1.1 18.3 0 11.2-1.1 5.5-1.2 8.3-2.8 2.2-1.4 .7-1-.2-1.6-.7-1-1.2-.2-.8 1-2.3 1.3-6.4 2-4.4 1-7.6 .2-1.1 .4-5.9 0-1.1-.4-4.8-.2-4.4-2.1-1.2-1.7-1.1-5.6-.1-7-.9-4-.1-7-1.2-6.7 .2-4.3-1-4.9-1.2-2.1-1.4-1.1-4-.6-1.6 .4-1.2 1.7-1.4 4.1 .4 1.2-.5 8-.8 4.3-.3 7.6-.7 3.4 .1 1.9-.4 .6-5 2-5.3 3-3.4 3.1zM46.1 74.4l1.3 .4 .7 .7 1 2-.3 2.4-1 1.3-1.4 .9-1.8-.7-.8-.9-.8-1.7 .9-3 .9-.9zM47.8 71.1l.1 .5 1.6 .5 1.5 1.3 1 1.6 .8 2.5 .7 10 .4 .9 .2 7 .8 4 .2 7 .9 6.8 .8 .8-1.2-7.5 .2-4.3-1.2-6.7 .2-4.3-1.2-6.7 .2-4.3-1-4.8-1.9-3-1.1-.9zM96.2 43.9l-.3 .6 0 5.1-.4 2.8-.5 1-.1 6.7-1 6.4 .1 3.6-1.1 6.5 .1 3.5-.5 1.5-.1 3.4 1.1 1 8.4 3 1.6 0 3.1 1 3 0-.5-.9-9.7-2.1-5.6-2.2 0-5.2 1.1-6.1-.1-3.9 1.2-7 0-2.6-.4-1 1-6-.1-4 .9-3.4 6.5 6.3 5.9 6.7 5.4 7.5 3.8 6.7 2.2 6.7 0 4-1 2.3-1.2 1.3-1.4 .9-3.7 1.1-.5 .7 2.2 .2 2.6-1 1.7-1.1 2-2.5 1-3.9-1-4.7-1-2.8-3.9-7.4-5-7-7-8-6.9-6.8-1.2-.9zM73.6 46.9l1.2 1.2 2.3 .1 2-1.7 1.5-2.1 .2-.8-.4-.5-2.9 3.9-2 .4-1-1 0-1.4 1.3-1.6-1.2-.2-1.1 1.8zM79.9 43l-.7 0-2.7 3.4-1-.3 0-1 .6-.7-.1-.8-1 1.6 .1 1.3 .9 .5 1-.4zM78.2 40.6l-1.7 2.8 .5-.2 1.2-1.6zM77.9 40.2l-1 0-1.4 1.9 .4 1zM80.6 37.4l-1.8 2.4 .7 0 .9-.9zM80.2 37l-1 0-1.2 1.6 .4 1zM84.2 31.9l-.7 1.9-1 1.2 .7 0 .8-.9zM101.8 8.9l-2 0-.2 .6-3.1 3.3-.9 2.3-.6 .7 .6 1.3 1.9-.5 3.1-3.1 1.4-2.6 .1-1.3zM15.6 7.4l-1.5 1.8-1.1 3.4-.1 5.8 .6 1.4 .3 2.3 .8 .8 .3 1.3 1 1.4 .5 1.8 4.8 8.1 6 7.7 4.8 5.4 7.2 7.3 10.4 9 14 10.1 8.9 5.5 8.6 4.6 3 .7 1.5 .8 2.6 .3 1.3-.5 .5-.9-.4-1.5 .4-1.8-.1-3.7 .7-3.5 .3-6.6 1.1-7.2-.1-3 1.1-5.8 0-4.2 .9-3.7 0-3.4-7-6-1.1 .5 0-.5 1.2-1-.4-.1-2 1.4-.1 1.2-1.3 .6-3.1 4.6 .1 .7 5.2-6.7 0 .4-4.8 6.7 1 0 1.3-2 2-2.3 .2-1.5 1.4-.7 6.3 5.1-1 10.7-.8 2.7 .1 3.9-.5 1.2-.6 4.9 .1 3.9-.9 4-.1 6.1-.7 3.6-16-8.6-9.5-6-14.1-10.9-11.7-10.9 36.7-15.5 2.7-1.6 5.7 3.9-.4 1 .3 1 1.1-1.5 0-1.3-5.6-4-1.5-.2-1.5 1-15 6.1-5.7 2.8-4 1.3-13 5.8-1.8 .3-1.6-1.4 .6-.9 38-16 1.5-1 0-.7-11.6-7-10.2-5.2-6.8-2.9-6.4-2.1-8.6-1.8-4.1-.1-5.8 1.7-.9-1.2-1.3-.8zM17.9 12.9l1.6-2.9 3.3-2 6.8-.4 4.4 .5 9.6 2.9 7.4 3 8 4 12.8 7.6-38.7 16.3-8.1-9.9-3.8-6.1-2-4-1.2-3.8z"/>
<path fill="#2f7889" fill-rule="evenodd" d="M47.8 71.1l.1 .5 1.6 .5 1.5 1.3 1 1.6 .8 2.5 .7 10 .4 .9 .2 7 .8 4 .2 7 .9 6.8 .5 .8 2.9-1 1.8-.1 1.7-.8 2.5-.2 2-.8 2.4-.2 1.6-.8 2-.1 1.4-.6 3.7-.6 .5-.7 .1-1.3-1.1-8.7-.1-2.9 .5-.6 2.5 .5 1.9-.2 5.4 1 5.2 .1 .8 .4 11.4 0 .9-.4 5-.2 2-.8 1.6-.1 3.1-1.1 2.4-1.8-.7-.1-2.7 1.3-3.6 .7-7.1-.3-1.7-.7-2.4-.1-2-.8-2.2-.2-6.3-2.2-3.5-1.7-4.9-1.8-11-.5-2.7-.7-3.7-.1-2.3-.9-2.4-.1-3.5-.9-1.3-1-.7-4.8-2-3.7-1.3-1.3-2.2-1.2-1.8-.1zM57.9 88.6l1 0 2.5 1.2 1.8 .3 1.4 1 1.4 0 .9 .9-.1 6.4-.6 .6-2.1 0-.7 .9-3.3 .1-.7-.5-.9-5.9-.5-1.2zM86.8 35.2l-.7 .2-8.1 11.1-1.4 1-1.6-.3-.6-1 .5-2 7.7-10 .5-1.3-8.6 11.2-.4 1.1 .1 1.7 1.7 1 1.6-.5zM95.6 20l-3.4 1.2-.6 .8 0 .6-6 7.6-.6 0-2 4.3-7.6 9.9-.4 .8 .4 1.6 1.1 .1 1.3-1 6.1-8.5 3.1-3.3 1-2 6-8.1 1.2-.8 .8-1.6 0-1.1z"/>
<path fill="#5293a3" fill-rule="evenodd" d="M66.1 90.9l-1.5 .2 1.4 0 1 1.1-.2 6.2-.8 .7-1.9-.1-.1 .5 .6 .3 1.5-.2 .9-1 .6-6.4zM45.5 75.1l-1.3 1.1-.4 2.4 .4 1.6 2 1.2 1.6-1 .6-2.8-1.2-2.2zM47.8 71.1l.1 .5 1.6 .5 1.5 1.3 1 1.6 .8 2.5 .7 10 .4 .9 .2 7 .8 4 .2 7 .9 6.8 .5 .8 2.9-1 1.8-.1 1.7-.8 2.5-.2 2-.8 2.4-.2 1.6-.8 2-.1 1.4-.6 3.7-.6 .5-.7 .1-1.3-.3-4.4-.6-1.2-.3-6 .5-.6 2.8 .4-2.3-1-1.3 .1-.4 .5 .7 3.8 0 3 1 5.5-.5 1.3-22 5.2-.4-.6-.1-5-.9-4.2 .1-4.2-1.1-6.8 .1-4.2-1.1-6.5 0-4.7-1-2.7-2.2-2.4-1.2-.5 .4-.7 .6 0 2.5 1.3 2.7 3.2 1 3.2 .6 3.9 3.4 1.3 12.7 2.2 10.7 .2 8.3 3.7 6.4 2.1 5.9 1.1 2.4 .9 8.2 .2 2-.3 1.5-.8 1.1 0 1.6-1.1-.7-.1-2.7 1.3-3.6 .7-7.1-.3-1.7-.7-2.4-.1-2-.8-2.2-.2-6.3-2.2-3.5-1.7-4.9-1.8-11-.5-2.7-.7-3.7-.1-2.3-.9-2.4-.1-3.5-.9-1.3-1-.7-4.8-2-3.7-1.3-1.3-2.2-1.2-1.8-.1zM81.4 41l-3.8 5-1.6 1 1.8-1.1zM88 32.6l-1 .4-.4 1.2-2 2.3zM83 32.2l-.9 1.8-7.6 9.9-.5 1.1 0 1.5 .9 1.1 1.1 .4 1-.2 1.6-1.4 6.2-8.5 2.2-2.5-.9 0-8.7 11.7-.8 .4-1.6-.3-.6-1 .5-2 7.7-10 .5-1zM85.1 30.2l-1.6 3.6-1.1 1.3 2.6-3.5zM96 20.5l-.4-.5-.6 0-2.8 1.2-.6 .8 3.6-1.4 .3 1.3-.5 1.5 .9-1.3z"/>
<path fill="#e0e0e0" fill-rule="evenodd" d="M96.8 44.5l-.6 .5-.4 7.8-.9 5.7 .2 3.9-1.1 6.7-.2 6.5-.8 3.5-.1 5.9 .9 .9 5.4 2 9.6 2.1 5.4 0 3.9-1.2 2.1-1.6 .8-1 1.1-2.4 .3-2.2-.8-4.6-1.7-4.5-3.9-6.9-5.5-7.5-5.9-6.7-5.2-5.3-1.9-1.5zM97.6 46.5l9.3 9.4 5.1 6.2 2.8 3.9 4 7 .1 1 .9 1.5 .1 1.4 .9 1.6 0 5.6-1.7 2.5-1.7 1.2-1.3 .1-1.5 .7-6.4 0-2.8-.8-2 0-1.9-.9-2-.3-.9-.6-1.8-.2-.9-.7 2.6-2.2 1.5-3 .8-3.8-.3-4.2-.6-3-2.1-6.4-1.6-2.7 .3-3.2 .5-1.5 .2-7.1zM36.1 45.5l.1 1 9.6 9.1 10.8 8.9 5.8 4.1 16.5 10 9.2 4.8 1-.2 .8-3.8 .2-6.4 .8-3.8 0-4.1 1-5.9 0-4.1 .7-2.6 1-11.3-1.8-2-4.8-3.8-.6-.2-1.4 1.4-7 9.9-1.4 1-1.6-.3-.6-1 .5-2 8.2-11-.1-1-5-3.6-1.8-.5-3 1.8-3.6 1.2-3.4 1.8zM86.5 36.8l5.7 5-.3 .6-.1 6.8-.4 .7-4.9-7.5-2.3-2.8zM76.8 29.8l1 .2 4 3.1-.2 .5-1 1zM17 12.6l.1 5.8 1.3 3.7 3.8 7.4 5 7 5.7 6.3 1.1-.2 17.6-7.7 1-.1 15.6-6.9 1-.1 3.7-1.7 .3-.6-13.7-8.3-8-4-7.4-3-10-3-4.5-.4-4.2 0-3.2 .4-3.4 2.3z"/>
<path fill="#fafafa" fill-rule="evenodd" d="M97.1 45.2l-.3 .4-.4 2.2-.3 7.1-.7 3.1 0 2 1.5 2.8 2.1 6.3 .9 6.8-.7 3.3-1.4 3.2-3.8 3 5.4 2.1 1.6 .1 2.2 1 2.8 .2 2 .7 6.8 0 1.8-.9 1.3-.1 2-1.4 1.7-2.7 0-6.2-.8-1.6-.2-1.4-.8-1.4-.2-1-4.1-7.3-6.7-8.9-10.8-11.1zM86.4 35.6l-3 3.6 0 .7 4.6 6.3 3.2 5.7 .7 .1 .7-2.5 .2-6.9 .3-1.2-6.1-5.6zM76.2 28.6l-.8 .9 2.6 3 1.8 2.4 .2 1 1.2-.3 1.4-2 0-1.1-5.7-4z"/>
</svg>
<svg x="575.75" y="341.65" width="53.3" height="50.17" viewBox="0 0 136 128">
<defs><radialGradient id="gScr" gradientUnits="userSpaceOnUse" cx="50.1" cy="-5.1" r="60"><stop offset="0" stop-color="#2f7889"/><stop offset="1" stop-color="#424242"/></radialGradient></defs>
<rect x="15" y="4" width="106" height="75.75" rx="2.4" fill="#69a1ba"/><path fill="#b7d5e5" d="M17.4 4h101.2a2.4 2.4 0 0 1 2.4 2.4V78H15V6.4A2.4 2.4 0 0 1 17.4 4z"/><rect x="19.25" y="9.3" width="97.5" height="63.45" fill="url(#gScr)"/><rect x="18.8" y="5.5" width="12.6" height="3" rx=".9" fill="#eeeeee"/>
<path fill="#b7d5e5" fill-rule="evenodd" d="M90 110.5l-1.2-.1-.8 .2-.5 .6 .1 .9 1 .7 1.4-.4 .5-.6 0-.7zM53.4 110.4l-.9 .5-.1 .9 .5 .6 .6 .1 .9-.5 .1-.9-.5-.6zM95.5 111.2l.1 .8 1 .6 2.5 0 .8-.2 .5-.6-.2-.9-1.1-.7-2.7 .3zM34.1 111.2l.1 .8 .9 .5 2.8 .1 1.1-.2 .5-.6 0-.7-.5-.6-1.4-.3-2.8 .3zM84.1 110.8l-1-.7-2.1 .5-.5 .6 0 .8 .5 .6 .5 .2 2-.6 .7-.7zM21.5 119.6l.1 1.6 1.2 0 .4-.4 .3-1 .9-1 0-.6 2-2 .2-.7 1.8-2.1 1.1-2.2 1.7-1.7 .6-1 71.6-.1 .7 .1 .4 .7 2 2 .1 .8 .8 .6 .1 .8 .9 .8 .1 .6 .9 .7 .2 .9 1.9 1.8 0 .6 .9 1 .2 1 1 .6 .8-.3 0-1.5-.6-1.4-3.9-5-1-1.7-2-2.3-.9-1.6-.6-.6-1.2-.5-72.6 0-1.1 .5-1.4 1.6-3.1 4.6-3.8 4.9zM47.9 93l-1.1 .1-.8 .7-1.5 .4-1.3 1.3 0 1.1 .6-.1 .6-1 1-.7 .2-.8 .8 .4 .7-.2 .7-.6zM52.5 92l-2.5 .4-1.2 .6 .8 .5 2-.1 .8-.6zM54.8 91.8l.4 .6 1.3 .2-.5 .9 .4 1.4 2.6 1.6 2.9 .5 1.5 .6 4.2 .4 1.8-.1 1.1 .3 1.6-.1 .3 .4-.9 .7-.1 .9 .7 .9 3.3 .1 1.1-.5 6 0 2.9-1 2.1 0 1.1-.4 .8-.6 2-.2 1.4-1.6-.2-1.3-1.2-1.3-2.3-1-2.6-.3-2.6-.9-3.4-.1-.9-.4-1.2 0-.6-1-.9-4.3-3.9 0-2.1-.3-1.5-.7-4.2-.1-2.3-1-1.4 .3-.6 5-.8 1.5-.7 .3-.8-.1z"/>
<path fill="#69a1ba" fill-rule="evenodd" d="M21.5 120l0 1.9 .9 .2 91.1 0 .9-.2 0-2-.8 .6-.4-.6-90.6 0-.4 .6zM92.8 96.5l-.2-1-.4-.3 .3 .6-1.3 1.6-2.3 .5-1.4 .9-2.1 0-2.9 1-6.3 0-.8 .4-2.8 0-.2-.6-6.8 .3-5.2-.1-4.3-.7-2.6 .1-3.7-1-1.7 0-3-1.1-1.7-1.1-.3 2.1 2.5 1.8 1 .2 1.3-.2 2.6 1.1 3 0 4 .9 3.1 .2 17.8-.1 1.4-.6 5.6-.4 1.8-.9 2.4-.2 .9-.8 1.4-.2 .6-.7zM17.1 79.5l.4 .3 43.9-.2 .6 .6-.5 5 1.4-.2 2.3 1 4.2 .1 1.2 .7 2.4 .3 4-.1-1-6.1 .6-1.1 41.8 0 .4-.3z"/>
<path fill="#2f7889" fill-rule="evenodd" d="M21.4 122l.8 1.8 2.4 .3 86.6 0 2.4-.3 .9-1.6-.1-1.3-.9 .3-91.1 0-.9-.3zM114.4 119.9l-.8 .6-.2-.3-90.9 0-.4 .3-.6-.5 0 .2 .9 .6 91.1 0 .7-.4zM87.4 98.8l-1-.2-3.8 1.2zM43.1 98.4l1.4 1.4 2 1 1.5 .1 2.6 .9 3.8 .2 3.4 .8 17.6 .1 8.4-1 2.7-.9 1.9-.1 3-1.4 1-1 .4-1.7-1.4 1.3-1.2 .1-1.1 .9-2 .1-1.7 .9-5.8 .4-1.2 .6-17.8 .1-3.1-.2-1-.5-2.9-.3 0-.2 5.5 .2 1.3 .4 9.2 .2 6-.3 1.2-.4 1.6 .1 1-.3 2.6-.1-2.8-.2-1 .5-20.6-.1-1.1-.5-5.9-.4-1.1-.7-1.1-.3-1.8 .1-3.4-2.1-.1 .7 1.5 1.1 3 1.1-1.5 .1-2.9-2zM49 99.2l.8-.1 3.2 .9-2.5 .1zM92.6 95.8l-1.7 1.8-1.7 .2-1.6 .8 3.3-1z"/>
<path fill="#eeeeee" fill-rule="evenodd" d="M21.5 120l.9 .8 91.1 0 .9-.6 0-.3-.8 .6-.5-1.4-.7-.6-.2-.9-1.8-1.7-.2-1.1-1-.6 0-.6-1-.7-.1-.9-.7-.5-.2-.9-2-1.8-.2-.9-1.6-.4-72.3 .1-.3 .3-.3 1.1-1.9 1.6-.1 .9-.6 .4-.3 1-1 .7 0 .6-1 .6 0 1-.7 .3-.4 .9-.9 .6-.1 .9-.6 .4-.4 1.3-.4 .3zM88.4 111.6l.4-.4 .8 .2-.7 .5zM96.4 111.5l1.2-.4 1.9 .3-.4 .4-2.5 0zM36.1 111.5l.7-.4 1.8 .3-.7 .4zM83.4 111.2l-2 .6 .1-.4 1.5-.4zM87.4 98.8l-2.6 .1-2.2 .9zM92.6 95.5l-.6-.6 .5 .9-1.6 1.8-1.7 .2-1.6 .8 3.3-1 1.7-1.6zM43.1 96.6l1.5 1.3 3 1.1 2.2 .1 3.2 .9 6.1 .2 1.3 .4 9.2 .2 6-.3 1.2-.4 1.6 .1 1-.3 2.6-.1-5.8 0-.8 .4-2.8 0-.4-.4 1.4-.8 .3-.8-1.4-1-2 .2-1-.4-6.1-.2-1.4-.7-2.5-.3-2.1-1.2-.5-.7 .2-.7 .8-.4 0-.8-.5-.4-5.3 .4-1 .6-4 .4-3 1.6-.6 .6zM61.5 84.9l0 .3 1.4-.2 2.3 1 4.2 .1 1.2 .7 2.4 .3 4-.1-4.1-.5-1.4-.5-3.4-.1-3.7-.9z"/>
<g fill="none" stroke="#a2c3d1" stroke-width="1.3"><path stroke-dasharray="5 2.3" d="M35 110.8H100"/><path stroke-dasharray="5.5 3" d="M34 112.6H101"/><path stroke-dasharray="7 3" d="M33 114.5H103"/><path d="M32 116.5H37M41 116.5H46M52 116.5H84M90 116.5H95M99 116.5H104"/></g>
</svg>
</g><!--/icons-->
    <g fill="#cbd5e1" font-family="Liberation Mono, monospace" font-size="13.16" text-anchor="middle">
      <text x="600" y="99">GÉANT Uplink</text>
      <text x="600" y="212">Sofia Core Hub</text>
      <text x="459" y="315">Univ. Access</text>
      <text x="788" y="297">Regional PoP</text>
      <text x="600" y="419">Discoverer HPC</text>
    </g>
  </g>
  </svg>

  <div id="brand">
    <div id="logo"><svg width="34" height="34" viewBox="0 0 34 34">
      <defs><linearGradient id="lgV" x1="0" y1="11" x2="0" y2="26" gradientUnits="userSpaceOnUse"><stop offset="0" stop-color="#c548e2"/><stop offset=".55" stop-color="#a836d8"/><stop offset="1" stop-color="#8226c2"/></linearGradient>
      <radialGradient id="lgD"><stop offset="0" stop-color="#ecc0f8"/><stop offset=".5" stop-color="#d98df0"/><stop offset="1" stop-color="#b745dc"/></radialGradient></defs>
      <g fill="none" stroke="url(#lgV)" stroke-width="1.35" stroke-linecap="round" stroke-linejoin="round">
        <path d="M11 12.8L17 25L23 12.8"/>
        <path stroke-width="1.6" d="M9.4 16.9H12.6M21.4 16.8H25"/>
      </g>
      <circle cx="11" cy="12.7" r="1.7" fill="url(#lgD)"/>
      <circle cx="23.05" cy="12.7" r="1.7" fill="url(#lgD)"/>
    </svg></div>
    <div id="bname">Vectree</div>
  </div>
  <div id="title">BulNet</div>
  <div id="url">vectree.io/c/bulnet</div>
</div>
</body>
</html>
